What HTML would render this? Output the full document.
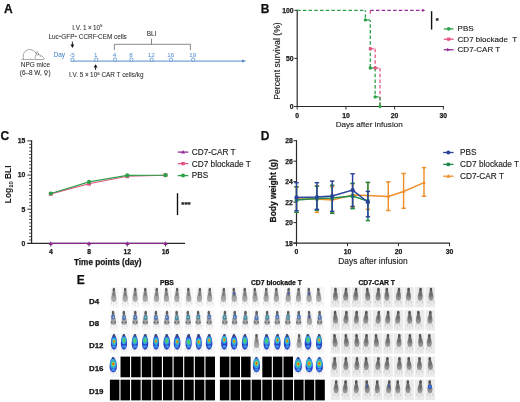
<!DOCTYPE html>
<html lang="en"><head><meta charset="utf-8"><title>Figure</title>
<style>
html,body{margin:0;padding:0;background:#fff;}
svg{display:block;font-family:"Liberation Sans", sans-serif;filter:blur(0.4px);}
</style></head><body>
<svg width="520" height="402" viewBox="0 0 520 402">
<defs>
<filter id="bl" x="-2%" y="-2%" width="104%" height="104%"><feGaussianBlur stdDeviation="0.45"/></filter>
<linearGradient id="mg" x1="0" y1="0" x2="0" y2="1"><stop offset="0" stop-color="#6c6c6c"/><stop offset="0.45" stop-color="#939393"/><stop offset="1" stop-color="#b2b2b2"/></linearGradient>
<linearGradient id="mg3" x1="0" y1="0" x2="0" y2="1"><stop offset="0" stop-color="#5e5e5e"/><stop offset="0.5" stop-color="#7c7c7c"/><stop offset="1" stop-color="#9c9c9c"/></linearGradient>
<g id="ms">
<path d="M4.4 19 C4.1 17 4.6 15.6 4.4 14" stroke="#dcdcdc" stroke-width="0.6" fill="none"/>
<path d="M2.8 13.6 L1.4 17.4 M6.0 13.6 L7.4 17.4" stroke="#d6d6d6" stroke-width="0.8" fill="none"/>
<path d="M3.2 4.6 L1.9 6.2 M5.6 4.6 L6.9 6.2" stroke="#d0d0d0" stroke-width="0.6" fill="none"/>
<path d="M4.4 0.8 C5.6 0.8 5.8 2.6 5.6 4.2 C6.0 6.8 7.2 10.0 7.0 12.4 C6.8 14.5 5.5 15.0 4.4 15.0 C3.3 15.0 2.0 14.5 1.8 12.4 C1.6 10.0 2.8 6.8 3.2 4.2 C3.0 2.6 3.2 0.8 4.4 0.8 Z" fill="url(#mg)"/>
<ellipse cx="4.4" cy="2.7" rx="1.1" ry="1.7" fill="#5c5c5c"/>
<ellipse cx="4.5" cy="7.6" rx="1.2" ry="1.8" fill="#747474" opacity="0.8"/>
</g>
<g id="ms3">
<path d="M4.4 18.6 C4.1 17 4.6 15.6 4.4 13.6" stroke="#d2d2d2" stroke-width="0.6" fill="none"/>
<path d="M2.9 12.4 L1.5 16.6 M5.9 12.4 L7.3 16.6" stroke="#cacaca" stroke-width="0.9" fill="none"/>
<path d="M4.4 0.8 C5.6 0.8 5.8 2.6 5.6 4.0 C6.2 6.0 7.0 8.4 6.9 10.4 C6.8 12.8 5.6 13.8 4.4 13.8 C3.2 13.8 2.0 12.8 1.9 10.4 C1.8 8.4 2.6 6.0 3.2 4.0 C3.0 2.6 3.2 0.8 4.4 0.8 Z" fill="url(#mg3)"/>
<ellipse cx="4.4" cy="2.7" rx="1.15" ry="1.8" fill="#525252"/>
<ellipse cx="4.5" cy="7.6" rx="1.4" ry="2.2" fill="#6a6a6a" opacity="0.8"/>
</g>
</defs>
<rect width="520" height="402" fill="#fff"/>
<text x="4.10" y="12.60" font-size="12" font-weight="bold" text-anchor="start" fill="#111" stroke="#111" stroke-width="0.25" stroke-linejoin="round" >A</text>
<text x="260.80" y="12.60" font-size="12" font-weight="bold" text-anchor="start" fill="#111" stroke="#111" stroke-width="0.25" stroke-linejoin="round" >B</text>
<text x="0.60" y="140.40" font-size="12" font-weight="bold" text-anchor="start" fill="#111" stroke="#111" stroke-width="0.25" stroke-linejoin="round" >C</text>
<text x="260.80" y="140.20" font-size="12" font-weight="bold" text-anchor="start" fill="#111" stroke="#111" stroke-width="0.25" stroke-linejoin="round" >D</text>
<text x="76.80" y="284.40" font-size="12" font-weight="bold" text-anchor="start" fill="#111" stroke="#111" stroke-width="0.25" stroke-linejoin="round" >E</text>
<line x1="70.80" y1="61.10" x2="243.00" y2="61.10" stroke="#4f88cc" stroke-width="0.95" />
<path d="M242.0 59.6 L246.3 61.1 L242.0 62.6 Z" fill="#4f88cc"/>
<text x="53.40" y="56.70" font-size="6.6" font-weight="normal" text-anchor="start" fill="#4a86c8" stroke="#4a86c8" stroke-width="0.05" stroke-linejoin="round" >Day</text>
<text x="72.00" y="56.80" font-size="6.2" font-weight="normal" text-anchor="middle" fill="#5a90d0" stroke="#5a90d0" stroke-width="0.04" stroke-linejoin="round" >-5</text>
<circle cx="72.4" cy="59.6" r="1.65" fill="#fff" stroke="#4a86c8" stroke-width="0.75"/>
<text x="95.80" y="56.80" font-size="6.2" font-weight="normal" text-anchor="middle" fill="#5a90d0" stroke="#5a90d0" stroke-width="0.04" stroke-linejoin="round" >1</text>
<circle cx="96.2" cy="59.6" r="1.65" fill="#fff" stroke="#4a86c8" stroke-width="0.75"/>
<text x="114.60" y="56.80" font-size="6.2" font-weight="normal" text-anchor="middle" fill="#5a90d0" stroke="#5a90d0" stroke-width="0.04" stroke-linejoin="round" >4</text>
<circle cx="115.0" cy="59.6" r="1.65" fill="#fff" stroke="#4a86c8" stroke-width="0.75"/>
<text x="130.90" y="56.80" font-size="6.2" font-weight="normal" text-anchor="middle" fill="#5a90d0" stroke="#5a90d0" stroke-width="0.04" stroke-linejoin="round" >8</text>
<circle cx="131.3" cy="59.6" r="1.65" fill="#fff" stroke="#4a86c8" stroke-width="0.75"/>
<text x="151.30" y="56.80" font-size="6.2" font-weight="normal" text-anchor="middle" fill="#5a90d0" stroke="#5a90d0" stroke-width="0.04" stroke-linejoin="round" >12</text>
<circle cx="151.70000000000002" cy="59.6" r="1.65" fill="#fff" stroke="#4a86c8" stroke-width="0.75"/>
<text x="170.70" y="56.80" font-size="6.2" font-weight="normal" text-anchor="middle" fill="#5a90d0" stroke="#5a90d0" stroke-width="0.04" stroke-linejoin="round" >16</text>
<circle cx="171.1" cy="59.6" r="1.65" fill="#fff" stroke="#4a86c8" stroke-width="0.75"/>
<text x="192.70" y="56.80" font-size="6.2" font-weight="normal" text-anchor="middle" fill="#5a90d0" stroke="#5a90d0" stroke-width="0.04" stroke-linejoin="round" >19</text>
<circle cx="193.1" cy="59.6" r="1.65" fill="#fff" stroke="#4a86c8" stroke-width="0.75"/>
<text x="87.40" y="29.50" font-size="6.4" font-weight="normal" text-anchor="middle" fill="#2a2a2a" stroke="#2a2a2a" stroke-width="0.06" stroke-linejoin="round" >I.V. 1 × 10<tspan font-size="4.4" dy="-2.2">5</tspan></text>
<text x="87.60" y="38.70" font-size="6.4" font-weight="normal" text-anchor="middle" fill="#2a2a2a" stroke="#2a2a2a" stroke-width="0.06" stroke-linejoin="round" >Luc<tspan font-size="4.4" dy="-2.2">+</tspan><tspan dy="2.2">GFP</tspan><tspan font-size="4.4" dy="-2.2">+</tspan><tspan dy="2.2"> CCRF</tspan><tspan font-size="4.4" dy="-2.2">-</tspan><tspan dy="2.2">CEM cells</tspan></text>
<text x="69.00" y="77.30" font-size="6.4" font-weight="normal" text-anchor="start" fill="#2a2a2a" stroke="#2a2a2a" stroke-width="0.06" stroke-linejoin="round" >I.V. 5 × 10<tspan font-size="4.4" dy="-2.2">6</tspan><tspan dy="2.2"> CAR T cells/kg</tspan></text>
<text x="151.50" y="36.20" font-size="6.4" font-weight="normal" text-anchor="middle" fill="#2a2a2a" stroke="#2a2a2a" stroke-width="0.06" stroke-linejoin="round" >BLI</text>
<path d="M72.4 41.6 V45.4" stroke="#111" stroke-width="0.9" fill="none"/><path d="M70.5 44.6 L72.4 48.0 L74.3 44.6 Z" fill="#111"/>
<path d="M95.6 70.0 V66.8" stroke="#111" stroke-width="0.9" fill="none"/><path d="M93.7 67.6 L95.6 64.2 L97.5 67.6 Z" fill="#111"/>
<path d="M114.4 50.2 V44.3 H190.4 V50.2 M151.5 44.3 V38.6" stroke="#3a3a3a" stroke-width="0.6" fill="none"/>
<g transform="translate(21.6,49.0) scale(0.97)" fill="none" stroke="#4a4a4a" stroke-width="0.5" stroke-linecap="round" stroke-linejoin="round"><path d="M2.0 10.6 C0.6 6.2 2.6 0.6 8.2 0.6 C11.6 0.6 14.0 2.4 15.4 5.0"/><path d="M16.6 5.6 C18.6 5.8 20.6 6.8 22.2 8.4 C23.6 9.6 23.8 10.8 22.6 10.9 L14.6 10.9"/><path d="M15.6 6.4 C14.4 4.6 14.8 2.6 15.8 2.7 C16.9 2.8 17.6 4.4 17.4 6.0"/><path d="M0.2 10.7 C1.2 10.3 2.4 11.1 3.6 10.8 L13.0 10.8 M14.6 10.9 C13.6 9.6 13.6 8.0 14.4 6.6"/><circle cx="19.2" cy="7.9" r="0.4" fill="#333" stroke="none"/></g>
<text x="35.40" y="67.40" font-size="6.4" font-weight="normal" text-anchor="middle" fill="#2a2a2a" stroke="#2a2a2a" stroke-width="0.06" stroke-linejoin="round" >NPG mice</text>
<text x="35.20" y="75.20" font-size="6.4" font-weight="normal" text-anchor="middle" fill="#2a2a2a" stroke="#2a2a2a" stroke-width="0.06" stroke-linejoin="round" >(6–8 W, <tspan font-size="6.6" font-family="DejaVu Sans, sans-serif">♀</tspan>)</text>
<line x1="297.20" y1="9.70" x2="297.20" y2="107.10" stroke="#2a2a2a" stroke-width="1.2" />
<line x1="294.40" y1="106.50" x2="443.96" y2="106.50" stroke="#2a2a2a" stroke-width="1.2" />
<line x1="294.40" y1="106.50" x2="297.20" y2="106.50" stroke="#2a2a2a" stroke-width="1.0" />
<text x="293.60" y="108.90" font-size="6.8" font-weight="bold" text-anchor="end" fill="#1a1a1a" stroke="#1a1a1a" stroke-width="0.25" stroke-linejoin="round" >0</text>
<line x1="294.40" y1="58.40" x2="297.20" y2="58.40" stroke="#2a2a2a" stroke-width="1.0" />
<text x="293.60" y="60.80" font-size="6.8" font-weight="bold" text-anchor="end" fill="#1a1a1a" stroke="#1a1a1a" stroke-width="0.25" stroke-linejoin="round" >50</text>
<line x1="294.40" y1="10.30" x2="297.20" y2="10.30" stroke="#2a2a2a" stroke-width="1.0" />
<text x="293.60" y="12.70" font-size="6.8" font-weight="bold" text-anchor="end" fill="#1a1a1a" stroke="#1a1a1a" stroke-width="0.25" stroke-linejoin="round" >100</text>
<line x1="297.20" y1="106.50" x2="297.20" y2="109.50" stroke="#2a2a2a" stroke-width="1.0" />
<text x="297.20" y="117.60" font-size="6.8" font-weight="bold" text-anchor="middle" fill="#1a1a1a" stroke="#1a1a1a" stroke-width="0.25" stroke-linejoin="round" >0</text>
<line x1="345.92" y1="106.50" x2="345.92" y2="109.50" stroke="#2a2a2a" stroke-width="1.0" />
<text x="345.92" y="117.60" font-size="6.8" font-weight="bold" text-anchor="middle" fill="#1a1a1a" stroke="#1a1a1a" stroke-width="0.25" stroke-linejoin="round" >10</text>
<line x1="394.64" y1="106.50" x2="394.64" y2="109.50" stroke="#2a2a2a" stroke-width="1.0" />
<text x="394.64" y="117.60" font-size="6.8" font-weight="bold" text-anchor="middle" fill="#1a1a1a" stroke="#1a1a1a" stroke-width="0.25" stroke-linejoin="round" >20</text>
<line x1="443.36" y1="106.50" x2="443.36" y2="109.50" stroke="#2a2a2a" stroke-width="1.0" />
<text x="443.36" y="117.60" font-size="6.8" font-weight="bold" text-anchor="middle" fill="#1a1a1a" stroke="#1a1a1a" stroke-width="0.25" stroke-linejoin="round" >30</text>
<text x="369.20" y="126.60" font-size="8.1" font-weight="normal" text-anchor="middle" fill="#222" stroke="#222" stroke-width="0.14" stroke-linejoin="round" >Days after infusion</text>
<text transform="translate(279.80,61.00) rotate(-90)" font-size="8.2" font-weight="normal" text-anchor="middle" fill="#222" stroke="#222" stroke-width="0.14" textLength="77.5" lengthAdjust="spacingAndGlyphs">Percent survival (%)</text>
<path d="M370.28 10.30 V13.70" stroke="#e0527f" stroke-width="1.25" fill="none"/>
<path d="M370.28 48.78 L375.15 48.78" stroke="#e0527f" stroke-width="1.25" stroke-dasharray="3.5 2.2" stroke-dashoffset="0" fill="none"/>
<path d="M375.15 48.78 L375.15 68.02" stroke="#e0527f" stroke-width="1.25" stroke-dasharray="3.5 2.2" stroke-dashoffset="0" fill="none"/>
<path d="M375.15 68.02 L380.02 68.02" stroke="#e0527f" stroke-width="1.25" stroke-dasharray="3.5 2.2" stroke-dashoffset="0" fill="none"/>
<path d="M380.02 68.02 L380.02 106.50" stroke="#e0527f" stroke-width="1.25" stroke-dasharray="3.5 2.2" stroke-dashoffset="0" fill="none"/>
<path d="M370.28 10.30 L423.87 10.30" stroke="#942c98" stroke-width="1.25" stroke-dasharray="3.5 2.2" stroke-dashoffset="0" fill="none"/>
<path d="M297.20 10.30 L365.41 10.30" stroke="#2fa04a" stroke-width="1.3" stroke-dasharray="3.5 2.2" stroke-dashoffset="0" fill="none"/>
<path d="M365.41 10.30 L365.41 19.92" stroke="#2fa04a" stroke-width="1.3" stroke-dasharray="3.5 2.2" stroke-dashoffset="-3.9" fill="none"/>
<path d="M365.41 19.92 L370.28 19.92" stroke="#2fa04a" stroke-width="1.3" stroke-dasharray="3.5 2.2" stroke-dashoffset="-1.0" fill="none"/>
<path d="M370.28 19.92 L370.28 68.02" stroke="#2fa04a" stroke-width="1.3" stroke-dasharray="3.5 2.2" stroke-dashoffset="-4.3" fill="none"/>
<path d="M370.28 68.02 L375.15 68.02" stroke="#2fa04a" stroke-width="1.3" stroke-dasharray="3.5 2.2" stroke-dashoffset="0" fill="none"/>
<path d="M375.15 68.02 L375.15 96.88" stroke="#2fa04a" stroke-width="1.3" stroke-dasharray="3.5 2.2" stroke-dashoffset="0" fill="none"/>
<path d="M375.15 96.88 L380.02 96.88" stroke="#2fa04a" stroke-width="1.3" stroke-dasharray="3.5 2.2" stroke-dashoffset="0" fill="none"/>
<path d="M380.02 96.88 L380.02 106.50" stroke="#2fa04a" stroke-width="1.3" stroke-dasharray="3.5 2.2" stroke-dashoffset="0" fill="none"/>
<rect x="368.78" y="47.28" width="3" height="3" fill="#e0527f"/>
<rect x="373.65" y="66.52" width="3" height="3" fill="#e0527f"/>
<circle cx="365.41" cy="19.92" r="1.7" fill="#2fa04a"/>
<circle cx="370.28" cy="68.02" r="1.7" fill="#2fa04a"/>
<circle cx="375.15" cy="96.88" r="1.7" fill="#2fa04a"/>
<circle cx="380.02" cy="106.50" r="1.7" fill="#2fa04a"/>
<path d="M422.27 8.70 L425.27 10.30 L422.27 11.90 Z" fill="#942c98"/>
<line x1="431.60" y1="11.20" x2="431.60" y2="29.60" stroke="#111" stroke-width="1.4" />
<text x="437.20" y="22.60" font-size="7.5" font-weight="bold" text-anchor="middle" fill="#111" stroke="#111" stroke-width="0.25" stroke-linejoin="round" >*</text>
<line x1="443.80" y1="28.90" x2="453.60" y2="28.90" stroke="#2fa04a" stroke-width="1.3" />
<circle cx="448.70" cy="28.9" r="1.8" fill="#2fa04a"/>
<text x="457.60" y="31.00" font-size="8" font-weight="normal" text-anchor="start" fill="#222" stroke="#222" stroke-width="0.14" stroke-linejoin="round" >PBS</text>
<line x1="443.80" y1="39.20" x2="453.60" y2="39.20" stroke="#e0527f" stroke-width="1.3" />
<rect x="447.10" y="37.60" width="3.2" height="3.2" fill="#e0527f"/>
<text x="457.60" y="41.50" font-size="8" font-weight="normal" text-anchor="start" fill="#222" stroke="#222" stroke-width="0.14" stroke-linejoin="round" >CD7 blockade  T</text>
<line x1="443.80" y1="49.70" x2="453.60" y2="49.70" stroke="#942c98" stroke-width="1.3" />
<path d="M447.00 47.90 L450.50 49.70 L447.00 51.50 Z" fill="#942c98"/>
<text x="457.60" y="52.20" font-size="8" font-weight="normal" text-anchor="start" fill="#222" stroke="#222" stroke-width="0.14" stroke-linejoin="round" >CD7-CAR T</text>
<line x1="31.60" y1="140.30" x2="31.60" y2="244.00" stroke="#2a2a2a" stroke-width="1.2" />
<line x1="27.40" y1="243.40" x2="185.00" y2="243.40" stroke="#2a2a2a" stroke-width="1.2" />
<line x1="27.40" y1="243.40" x2="31.60" y2="243.40" stroke="#2a2a2a" stroke-width="1.0" />
<text x="25.20" y="245.80" font-size="6.8" font-weight="bold" text-anchor="end" fill="#1a1a1a" stroke="#1a1a1a" stroke-width="0.25" stroke-linejoin="round" >0</text>
<line x1="29.20" y1="239.98" x2="31.60" y2="239.98" stroke="#2a2a2a" stroke-width="0.9" />
<line x1="29.20" y1="236.57" x2="31.60" y2="236.57" stroke="#2a2a2a" stroke-width="0.9" />
<line x1="29.20" y1="233.15" x2="31.60" y2="233.15" stroke="#2a2a2a" stroke-width="0.9" />
<line x1="29.20" y1="229.73" x2="31.60" y2="229.73" stroke="#2a2a2a" stroke-width="0.9" />
<line x1="29.20" y1="226.32" x2="31.60" y2="226.32" stroke="#2a2a2a" stroke-width="0.9" />
<line x1="29.20" y1="222.90" x2="31.60" y2="222.90" stroke="#2a2a2a" stroke-width="0.9" />
<line x1="29.20" y1="219.48" x2="31.60" y2="219.48" stroke="#2a2a2a" stroke-width="0.9" />
<line x1="29.20" y1="216.07" x2="31.60" y2="216.07" stroke="#2a2a2a" stroke-width="0.9" />
<line x1="29.20" y1="212.65" x2="31.60" y2="212.65" stroke="#2a2a2a" stroke-width="0.9" />
<line x1="27.40" y1="209.23" x2="31.60" y2="209.23" stroke="#2a2a2a" stroke-width="1.0" />
<text x="25.20" y="211.63" font-size="6.8" font-weight="bold" text-anchor="end" fill="#1a1a1a" stroke="#1a1a1a" stroke-width="0.25" stroke-linejoin="round" >5</text>
<line x1="29.20" y1="205.82" x2="31.60" y2="205.82" stroke="#2a2a2a" stroke-width="0.9" />
<line x1="29.20" y1="202.40" x2="31.60" y2="202.40" stroke="#2a2a2a" stroke-width="0.9" />
<line x1="29.20" y1="198.98" x2="31.60" y2="198.98" stroke="#2a2a2a" stroke-width="0.9" />
<line x1="29.20" y1="195.57" x2="31.60" y2="195.57" stroke="#2a2a2a" stroke-width="0.9" />
<line x1="29.20" y1="192.15" x2="31.60" y2="192.15" stroke="#2a2a2a" stroke-width="0.9" />
<line x1="29.20" y1="188.73" x2="31.60" y2="188.73" stroke="#2a2a2a" stroke-width="0.9" />
<line x1="29.20" y1="185.32" x2="31.60" y2="185.32" stroke="#2a2a2a" stroke-width="0.9" />
<line x1="29.20" y1="181.90" x2="31.60" y2="181.90" stroke="#2a2a2a" stroke-width="0.9" />
<line x1="29.20" y1="178.48" x2="31.60" y2="178.48" stroke="#2a2a2a" stroke-width="0.9" />
<line x1="27.40" y1="175.07" x2="31.60" y2="175.07" stroke="#2a2a2a" stroke-width="1.0" />
<text x="25.20" y="177.47" font-size="6.8" font-weight="bold" text-anchor="end" fill="#1a1a1a" stroke="#1a1a1a" stroke-width="0.25" stroke-linejoin="round" >10</text>
<line x1="29.20" y1="171.65" x2="31.60" y2="171.65" stroke="#2a2a2a" stroke-width="0.9" />
<line x1="29.20" y1="168.23" x2="31.60" y2="168.23" stroke="#2a2a2a" stroke-width="0.9" />
<line x1="29.20" y1="164.82" x2="31.60" y2="164.82" stroke="#2a2a2a" stroke-width="0.9" />
<line x1="29.20" y1="161.40" x2="31.60" y2="161.40" stroke="#2a2a2a" stroke-width="0.9" />
<line x1="29.20" y1="157.98" x2="31.60" y2="157.98" stroke="#2a2a2a" stroke-width="0.9" />
<line x1="29.20" y1="154.57" x2="31.60" y2="154.57" stroke="#2a2a2a" stroke-width="0.9" />
<line x1="29.20" y1="151.15" x2="31.60" y2="151.15" stroke="#2a2a2a" stroke-width="0.9" />
<line x1="29.20" y1="147.73" x2="31.60" y2="147.73" stroke="#2a2a2a" stroke-width="0.9" />
<line x1="29.20" y1="144.32" x2="31.60" y2="144.32" stroke="#2a2a2a" stroke-width="0.9" />
<line x1="27.40" y1="140.90" x2="31.60" y2="140.90" stroke="#2a2a2a" stroke-width="1.0" />
<text x="25.20" y="143.30" font-size="6.8" font-weight="bold" text-anchor="end" fill="#1a1a1a" stroke="#1a1a1a" stroke-width="0.25" stroke-linejoin="round" >15</text>
<line x1="50.80" y1="243.40" x2="50.80" y2="246.40" stroke="#2a2a2a" stroke-width="1.0" />
<text x="50.80" y="254.00" font-size="6.8" font-weight="bold" text-anchor="middle" fill="#1a1a1a" stroke="#1a1a1a" stroke-width="0.25" stroke-linejoin="round" >4</text>
<line x1="89.04" y1="243.40" x2="89.04" y2="246.40" stroke="#2a2a2a" stroke-width="1.0" />
<text x="89.04" y="254.00" font-size="6.8" font-weight="bold" text-anchor="middle" fill="#1a1a1a" stroke="#1a1a1a" stroke-width="0.25" stroke-linejoin="round" >8</text>
<line x1="127.28" y1="243.40" x2="127.28" y2="246.40" stroke="#2a2a2a" stroke-width="1.0" />
<text x="127.28" y="254.00" font-size="6.8" font-weight="bold" text-anchor="middle" fill="#1a1a1a" stroke="#1a1a1a" stroke-width="0.25" stroke-linejoin="round" >12</text>
<line x1="165.52" y1="243.40" x2="165.52" y2="246.40" stroke="#2a2a2a" stroke-width="1.0" />
<text x="165.52" y="254.00" font-size="6.8" font-weight="bold" text-anchor="middle" fill="#1a1a1a" stroke="#1a1a1a" stroke-width="0.25" stroke-linejoin="round" >16</text>
<text x="107.80" y="265.20" font-size="8.2" font-weight="bold" text-anchor="middle" fill="#1a1a1a" stroke="#1a1a1a" stroke-width="0.25" stroke-linejoin="round" >Time points (day)</text>
<text transform="translate(11.4,184.3) rotate(-90)" font-size="8.4" font-weight="bold" text-anchor="middle" fill="#1a1a1a">Log<tspan font-size="5.9" dy="1.7">10</tspan><tspan dy="-1.7"> BLI</tspan></text>
<path d="M50.80 193.86 L89.04 183.75 L127.28 176.30 L165.52 175.20" stroke="#e0527f" stroke-width="1.1" fill="none"/>
<rect x="48.90" y="191.96" width="3.8" height="3.8" fill="#e0527f"/>
<rect x="87.14" y="181.84" width="3.8" height="3.8" fill="#e0527f"/>
<rect x="125.38" y="174.40" width="3.8" height="3.8" fill="#e0527f"/>
<rect x="163.62" y="173.30" width="3.8" height="3.8" fill="#e0527f"/>
<path d="M50.80 193.52 L89.04 181.90 L127.28 175.41 L165.52 175.20" stroke="#2fa04a" stroke-width="1.1" fill="none"/>
<circle cx="50.80" cy="193.52" r="2.1" fill="#2fa04a"/>
<circle cx="89.04" cy="181.90" r="2.1" fill="#2fa04a"/>
<circle cx="127.28" cy="175.41" r="2.1" fill="#2fa04a"/>
<circle cx="165.52" cy="175.20" r="2.1" fill="#2fa04a"/>
<line x1="50.80" y1="243.40" x2="165.52" y2="243.40" stroke="#942c98" stroke-width="1.25" opacity="0.9"/>
<path d="M48.70 245.00 L50.80 241.20 L52.90 245.00 Z" fill="#942c98"/>
<path d="M86.94 245.00 L89.04 241.20 L91.14 245.00 Z" fill="#942c98"/>
<path d="M125.18 245.00 L127.28 241.20 L129.38 245.00 Z" fill="#942c98"/>
<path d="M163.42 245.00 L165.52 241.20 L167.62 245.00 Z" fill="#942c98"/>
<line x1="177.50" y1="193.20" x2="177.50" y2="215.10" stroke="#111" stroke-width="1.4" />
<text x="186.00" y="207.20" font-size="8" font-weight="bold" text-anchor="middle" fill="#111" stroke="#111" stroke-width="0.25" stroke-linejoin="round" >***</text>
<line x1="177.80" y1="152.10" x2="188.30" y2="152.10" stroke="#942c98" stroke-width="1.3" />
<path d="M181.05 153.60 L183.05 150.00 L185.05 153.60 Z" fill="#942c98"/>
<text x="191.80" y="154.80" font-size="8.25" font-weight="normal" text-anchor="start" fill="#222" stroke="#222" stroke-width="0.14" stroke-linejoin="round" >CD7-CAR T</text>
<line x1="177.80" y1="163.60" x2="188.30" y2="163.60" stroke="#e0527f" stroke-width="1.3" />
<rect x="181.35" y="161.90" width="3.4" height="3.4" fill="#e0527f"/>
<text x="191.80" y="166.60" font-size="8.25" font-weight="normal" text-anchor="start" fill="#222" stroke="#222" stroke-width="0.14" stroke-linejoin="round" >CD7 blockade T</text>
<line x1="177.80" y1="175.60" x2="188.30" y2="175.60" stroke="#2fa04a" stroke-width="1.3" />
<circle cx="183.05" cy="175.6" r="2.0" fill="#2fa04a"/>
<text x="191.80" y="178.30" font-size="8.25" font-weight="normal" text-anchor="start" fill="#222" stroke="#222" stroke-width="0.14" stroke-linejoin="round" >PBS</text>
<line x1="296.50" y1="140.10" x2="296.50" y2="243.70" stroke="#2a2a2a" stroke-width="1.2" />
<line x1="293.40" y1="243.10" x2="450.10" y2="243.10" stroke="#2a2a2a" stroke-width="1.2" />
<line x1="293.40" y1="243.10" x2="296.50" y2="243.10" stroke="#2a2a2a" stroke-width="1.0" />
<text x="292.80" y="245.50" font-size="6.8" font-weight="bold" text-anchor="end" fill="#1a1a1a" stroke="#1a1a1a" stroke-width="0.25" stroke-linejoin="round" >18</text>
<line x1="293.40" y1="222.62" x2="296.50" y2="222.62" stroke="#2a2a2a" stroke-width="1.0" />
<text x="292.80" y="225.02" font-size="6.8" font-weight="bold" text-anchor="end" fill="#1a1a1a" stroke="#1a1a1a" stroke-width="0.25" stroke-linejoin="round" >20</text>
<line x1="293.40" y1="202.14" x2="296.50" y2="202.14" stroke="#2a2a2a" stroke-width="1.0" />
<text x="292.80" y="204.54" font-size="6.8" font-weight="bold" text-anchor="end" fill="#1a1a1a" stroke="#1a1a1a" stroke-width="0.25" stroke-linejoin="round" >22</text>
<line x1="293.40" y1="181.66" x2="296.50" y2="181.66" stroke="#2a2a2a" stroke-width="1.0" />
<text x="292.80" y="184.06" font-size="6.8" font-weight="bold" text-anchor="end" fill="#1a1a1a" stroke="#1a1a1a" stroke-width="0.25" stroke-linejoin="round" >24</text>
<line x1="293.40" y1="161.18" x2="296.50" y2="161.18" stroke="#2a2a2a" stroke-width="1.0" />
<text x="292.80" y="163.58" font-size="6.8" font-weight="bold" text-anchor="end" fill="#1a1a1a" stroke="#1a1a1a" stroke-width="0.25" stroke-linejoin="round" >26</text>
<line x1="293.40" y1="140.70" x2="296.50" y2="140.70" stroke="#2a2a2a" stroke-width="1.0" />
<text x="292.80" y="143.10" font-size="6.8" font-weight="bold" text-anchor="end" fill="#1a1a1a" stroke="#1a1a1a" stroke-width="0.25" stroke-linejoin="round" >28</text>
<line x1="296.50" y1="243.10" x2="296.50" y2="246.10" stroke="#2a2a2a" stroke-width="1.0" />
<text x="296.50" y="254.20" font-size="6.8" font-weight="bold" text-anchor="middle" fill="#1a1a1a" stroke="#1a1a1a" stroke-width="0.25" stroke-linejoin="round" >0</text>
<line x1="347.50" y1="243.10" x2="347.50" y2="246.10" stroke="#2a2a2a" stroke-width="1.0" />
<text x="347.50" y="254.20" font-size="6.8" font-weight="bold" text-anchor="middle" fill="#1a1a1a" stroke="#1a1a1a" stroke-width="0.25" stroke-linejoin="round" >10</text>
<line x1="398.50" y1="243.10" x2="398.50" y2="246.10" stroke="#2a2a2a" stroke-width="1.0" />
<text x="398.50" y="254.20" font-size="6.8" font-weight="bold" text-anchor="middle" fill="#1a1a1a" stroke="#1a1a1a" stroke-width="0.25" stroke-linejoin="round" >20</text>
<line x1="449.50" y1="243.10" x2="449.50" y2="246.10" stroke="#2a2a2a" stroke-width="1.0" />
<text x="449.50" y="254.20" font-size="6.8" font-weight="bold" text-anchor="middle" fill="#1a1a1a" stroke="#1a1a1a" stroke-width="0.25" stroke-linejoin="round" >30</text>
<text x="373.00" y="264.40" font-size="8.4" font-weight="normal" text-anchor="middle" fill="#222" stroke="#222" stroke-width="0.14" stroke-linejoin="round" >Days after infusion</text>
<text transform="translate(276.20,190.80) rotate(-90)" font-size="8.45" font-weight="bold" text-anchor="middle" fill="#1a1a1a" stroke="#1a1a1a" stroke-width="0.25" >Body weight (g)</text>
<path d="M296.50 199.07 L316.90 199.07 L332.20 200.09 L352.60 194.97 L367.90 195.48 L388.30 196.51 L403.60 191.49 L424.00 182.68" stroke="#ee8f2c" stroke-width="1.45" fill="none"/>
<line x1="296.50" y1="186.78" x2="296.50" y2="212.38" stroke="#ee8f2c" stroke-width="1.45" />
<line x1="294.30" y1="186.78" x2="298.70" y2="186.78" stroke="#ee8f2c" stroke-width="1.45" />
<line x1="294.30" y1="212.38" x2="298.70" y2="212.38" stroke="#ee8f2c" stroke-width="1.45" />
<path d="M294.70 200.37 L296.50 197.17 L298.30 200.37 Z" fill="#ee8f2c"/>
<line x1="316.90" y1="185.76" x2="316.90" y2="212.38" stroke="#ee8f2c" stroke-width="1.45" />
<line x1="314.70" y1="185.76" x2="319.10" y2="185.76" stroke="#ee8f2c" stroke-width="1.45" />
<line x1="314.70" y1="212.38" x2="319.10" y2="212.38" stroke="#ee8f2c" stroke-width="1.45" />
<path d="M315.10 200.37 L316.90 197.17 L318.70 200.37 Z" fill="#ee8f2c"/>
<line x1="332.20" y1="186.78" x2="332.20" y2="212.89" stroke="#ee8f2c" stroke-width="1.45" />
<line x1="330.00" y1="186.78" x2="334.40" y2="186.78" stroke="#ee8f2c" stroke-width="1.45" />
<line x1="330.00" y1="212.89" x2="334.40" y2="212.89" stroke="#ee8f2c" stroke-width="1.45" />
<path d="M330.40 201.39 L332.20 198.19 L334.00 201.39 Z" fill="#ee8f2c"/>
<line x1="352.60" y1="183.71" x2="352.60" y2="207.77" stroke="#ee8f2c" stroke-width="1.45" />
<line x1="350.40" y1="183.71" x2="354.80" y2="183.71" stroke="#ee8f2c" stroke-width="1.45" />
<line x1="350.40" y1="207.77" x2="354.80" y2="207.77" stroke="#ee8f2c" stroke-width="1.45" />
<path d="M350.80 196.27 L352.60 193.07 L354.40 196.27 Z" fill="#ee8f2c"/>
<line x1="367.90" y1="182.68" x2="367.90" y2="209.31" stroke="#ee8f2c" stroke-width="1.45" />
<line x1="365.70" y1="182.68" x2="370.10" y2="182.68" stroke="#ee8f2c" stroke-width="1.45" />
<line x1="365.70" y1="209.31" x2="370.10" y2="209.31" stroke="#ee8f2c" stroke-width="1.45" />
<path d="M366.10 196.78 L367.90 193.58 L369.70 196.78 Z" fill="#ee8f2c"/>
<line x1="388.30" y1="181.86" x2="388.30" y2="210.54" stroke="#ee8f2c" stroke-width="1.45" />
<line x1="386.10" y1="181.86" x2="390.50" y2="181.86" stroke="#ee8f2c" stroke-width="1.45" />
<line x1="386.10" y1="210.54" x2="390.50" y2="210.54" stroke="#ee8f2c" stroke-width="1.45" />
<path d="M386.50 197.81 L388.30 194.61 L390.10 197.81 Z" fill="#ee8f2c"/>
<line x1="403.60" y1="173.47" x2="403.60" y2="208.28" stroke="#ee8f2c" stroke-width="1.45" />
<line x1="401.40" y1="173.47" x2="405.80" y2="173.47" stroke="#ee8f2c" stroke-width="1.45" />
<line x1="401.40" y1="208.28" x2="405.80" y2="208.28" stroke="#ee8f2c" stroke-width="1.45" />
<path d="M401.80 192.79 L403.60 189.59 L405.40 192.79 Z" fill="#ee8f2c"/>
<line x1="424.00" y1="167.63" x2="424.00" y2="196.20" stroke="#ee8f2c" stroke-width="1.45" />
<line x1="421.80" y1="167.63" x2="426.20" y2="167.63" stroke="#ee8f2c" stroke-width="1.45" />
<line x1="421.80" y1="196.20" x2="426.20" y2="196.20" stroke="#ee8f2c" stroke-width="1.45" />
<path d="M422.20 183.98 L424.00 180.78 L425.80 183.98 Z" fill="#ee8f2c"/>
<path d="M296.50 200.09 L316.90 198.56 L332.20 198.04 L352.60 196.00 L367.90 201.12" stroke="#1f8a4c" stroke-width="1.45" fill="none"/>
<line x1="296.50" y1="186.78" x2="296.50" y2="212.38" stroke="#1f8a4c" stroke-width="1.45" />
<line x1="294.30" y1="186.78" x2="298.70" y2="186.78" stroke="#1f8a4c" stroke-width="1.45" />
<line x1="294.30" y1="212.38" x2="298.70" y2="212.38" stroke="#1f8a4c" stroke-width="1.45" />
<rect x="294.70" y="198.29" width="3.6" height="3.6" fill="#1f8a4c"/>
<line x1="316.90" y1="186.27" x2="316.90" y2="210.33" stroke="#1f8a4c" stroke-width="1.45" />
<line x1="314.70" y1="186.27" x2="319.10" y2="186.27" stroke="#1f8a4c" stroke-width="1.45" />
<line x1="314.70" y1="210.33" x2="319.10" y2="210.33" stroke="#1f8a4c" stroke-width="1.45" />
<rect x="315.10" y="196.76" width="3.6" height="3.6" fill="#1f8a4c"/>
<line x1="332.20" y1="185.24" x2="332.20" y2="213.40" stroke="#1f8a4c" stroke-width="1.45" />
<line x1="330.00" y1="185.24" x2="334.40" y2="185.24" stroke="#1f8a4c" stroke-width="1.45" />
<line x1="330.00" y1="213.40" x2="334.40" y2="213.40" stroke="#1f8a4c" stroke-width="1.45" />
<rect x="330.40" y="196.24" width="3.6" height="3.6" fill="#1f8a4c"/>
<line x1="352.60" y1="183.30" x2="352.60" y2="208.69" stroke="#1f8a4c" stroke-width="1.45" />
<line x1="350.40" y1="183.30" x2="354.80" y2="183.30" stroke="#1f8a4c" stroke-width="1.45" />
<line x1="350.40" y1="208.69" x2="354.80" y2="208.69" stroke="#1f8a4c" stroke-width="1.45" />
<rect x="350.80" y="194.20" width="3.6" height="3.6" fill="#1f8a4c"/>
<line x1="367.90" y1="182.27" x2="367.90" y2="220.57" stroke="#1f8a4c" stroke-width="1.45" />
<line x1="365.70" y1="182.27" x2="370.10" y2="182.27" stroke="#1f8a4c" stroke-width="1.45" />
<line x1="365.70" y1="220.57" x2="370.10" y2="220.57" stroke="#1f8a4c" stroke-width="1.45" />
<rect x="366.10" y="199.32" width="3.6" height="3.6" fill="#1f8a4c"/>
<path d="M296.50 197.43 L316.90 197.02 L332.20 196.00 L352.60 190.16 L367.90 202.24" stroke="#2b439b" stroke-width="1.45" fill="none"/>
<line x1="296.50" y1="182.68" x2="296.50" y2="210.74" stroke="#2b439b" stroke-width="1.45" />
<line x1="294.30" y1="182.68" x2="298.70" y2="182.68" stroke="#2b439b" stroke-width="1.45" />
<line x1="294.30" y1="210.74" x2="298.70" y2="210.74" stroke="#2b439b" stroke-width="1.45" />
<circle cx="296.50" cy="197.43" r="2.1" fill="#2b439b"/>
<line x1="316.90" y1="182.68" x2="316.90" y2="209.31" stroke="#2b439b" stroke-width="1.45" />
<line x1="314.70" y1="182.68" x2="319.10" y2="182.68" stroke="#2b439b" stroke-width="1.45" />
<line x1="314.70" y1="209.31" x2="319.10" y2="209.31" stroke="#2b439b" stroke-width="1.45" />
<circle cx="316.90" cy="197.02" r="2.1" fill="#2b439b"/>
<line x1="332.20" y1="181.05" x2="332.20" y2="211.36" stroke="#2b439b" stroke-width="1.45" />
<line x1="330.00" y1="181.05" x2="334.40" y2="181.05" stroke="#2b439b" stroke-width="1.45" />
<line x1="330.00" y1="211.36" x2="334.40" y2="211.36" stroke="#2b439b" stroke-width="1.45" />
<circle cx="332.20" cy="196.00" r="2.1" fill="#2b439b"/>
<line x1="352.60" y1="173.78" x2="352.60" y2="206.44" stroke="#2b439b" stroke-width="1.45" />
<line x1="350.40" y1="173.78" x2="354.80" y2="173.78" stroke="#2b439b" stroke-width="1.45" />
<line x1="350.40" y1="206.44" x2="354.80" y2="206.44" stroke="#2b439b" stroke-width="1.45" />
<circle cx="352.60" cy="190.16" r="2.1" fill="#2b439b"/>
<line x1="367.90" y1="191.39" x2="367.90" y2="216.78" stroke="#2b439b" stroke-width="1.45" />
<line x1="365.70" y1="191.39" x2="370.10" y2="191.39" stroke="#2b439b" stroke-width="1.45" />
<line x1="365.70" y1="216.78" x2="370.10" y2="216.78" stroke="#2b439b" stroke-width="1.45" />
<circle cx="367.90" cy="202.24" r="2.1" fill="#2b439b"/>
<line x1="443.10" y1="152.50" x2="453.50" y2="152.50" stroke="#2b439b" stroke-width="1.3" />
<circle cx="448.30" cy="152.5" r="2.0" fill="#2b439b"/>
<text x="460.10" y="155.20" font-size="8.25" font-weight="normal" text-anchor="start" fill="#222" stroke="#222" stroke-width="0.14" stroke-linejoin="round" >PBS</text>
<line x1="443.10" y1="164.40" x2="453.50" y2="164.40" stroke="#1f8a4c" stroke-width="1.3" />
<rect x="446.60" y="162.70" width="3.4" height="3.4" fill="#1f8a4c"/>
<text x="460.10" y="167.00" font-size="8.25" font-weight="normal" text-anchor="start" fill="#222" stroke="#222" stroke-width="0.14" stroke-linejoin="round" >CD7 blockade T</text>
<line x1="443.10" y1="176.20" x2="453.50" y2="176.20" stroke="#ee8f2c" stroke-width="1.3" />
<path d="M446.30 177.70 L448.30 174.10 L450.30 177.70 Z" fill="#ee8f2c"/>
<text x="460.10" y="178.80" font-size="8.25" font-weight="normal" text-anchor="start" fill="#222" stroke="#222" stroke-width="0.14" stroke-linejoin="round" >CD7-CAR T</text>
<text x="89.00" y="303.60" font-size="7.9" font-weight="bold" text-anchor="start" fill="#111" stroke="#111" stroke-width="0.25" stroke-linejoin="round" >D4</text>
<text x="89.00" y="326.10" font-size="7.9" font-weight="bold" text-anchor="start" fill="#111" stroke="#111" stroke-width="0.25" stroke-linejoin="round" >D8</text>
<text x="89.00" y="348.10" font-size="7.9" font-weight="bold" text-anchor="start" fill="#111" stroke="#111" stroke-width="0.25" stroke-linejoin="round" >D12</text>
<text x="89.00" y="371.10" font-size="7.9" font-weight="bold" text-anchor="start" fill="#111" stroke="#111" stroke-width="0.25" stroke-linejoin="round" >D16</text>
<text x="89.00" y="393.70" font-size="7.9" font-weight="bold" text-anchor="start" fill="#111" stroke="#111" stroke-width="0.25" stroke-linejoin="round" >D19</text>
<text x="166.90" y="285.00" font-size="6.8" font-weight="bold" text-anchor="middle" fill="#111" stroke="#111" stroke-width="0.25" stroke-linejoin="round" >PBS</text>
<text x="276.40" y="284.80" font-size="6.8" font-weight="bold" text-anchor="middle" fill="#111" stroke="#111" stroke-width="0.25" stroke-linejoin="round" >CD7 blockade T</text>
<text x="376.70" y="284.80" font-size="6.8" font-weight="bold" text-anchor="middle" fill="#111" stroke="#111" stroke-width="0.25" stroke-linejoin="round" >CD7-CAR T</text>
<g filter="url(#bl)">
<g transform="translate(110.10,286.90)">
<rect width="8.8" height="20.6" fill="#f7f7f7"/>
<use href="#ms" x="-0.68" transform="rotate(0.4 3.72 8)"/>
</g>
<g transform="translate(120.72,286.90)">
<rect width="8.8" height="20.6" fill="#f7f7f7"/>
<use href="#ms" x="0.08" transform="rotate(-0.2 4.48 8)"/>
</g>
<g transform="translate(131.34,286.90)">
<rect width="8.8" height="20.6" fill="#f7f7f7"/>
<use href="#ms" x="-0.59" transform="rotate(0.5 3.81 8)"/>
</g>
<g transform="translate(141.96,286.90)">
<rect width="8.8" height="20.6" fill="#f7f7f7"/>
<use href="#ms" x="-1.10" transform="rotate(0.1 3.30 8)"/>
</g>
<g transform="translate(152.58,286.90)">
<rect width="8.8" height="20.6" fill="#f7f7f7"/>
<use href="#ms" x="-0.39" transform="rotate(1.8 4.01 8)"/>
</g>
<g transform="translate(163.20,286.90)">
<rect width="8.8" height="20.6" fill="#f7f7f7"/>
<use href="#ms" x="-1.25" transform="rotate(-1.2 3.15 8)"/>
</g>
<g transform="translate(173.82,286.90)">
<rect width="8.8" height="20.6" fill="#f7f7f7"/>
<use href="#ms" x="-1.25" transform="rotate(1.9 3.15 8)"/>
</g>
<g transform="translate(184.44,286.90)">
<rect width="8.8" height="20.6" fill="#f7f7f7"/>
<use href="#ms" x="-0.29" transform="rotate(-2.7 4.11 8)"/>
</g>
<g transform="translate(195.06,286.90)">
<rect width="8.8" height="20.6" fill="#f7f7f7"/>
<use href="#ms" x="0.17" transform="rotate(2.8 4.57 8)"/>
</g>
<g transform="translate(205.68,286.90)">
<rect width="8.8" height="20.6" fill="#f7f7f7"/>
<use href="#ms" x="-0.35" transform="rotate(0.7 4.05 8)"/>
</g>
<g transform="translate(110.10,310.00)">
<rect width="8.8" height="20.6" fill="#f7f7f7"/>
<use href="#ms" x="-1.15" transform="rotate(-2.9 3.25 8)"/>
<ellipse cx="2.90" cy="6.83" rx="2.0" ry="2.5" fill="#3f66c4" opacity="0.72"/>
<ellipse cx="3.25" cy="7.2" rx="0.75" ry="0.95" fill="#8fd0e8" opacity="0.9"/>
<ellipse cx="1.55" cy="12.6" rx="1.0" ry="1.0" fill="#5a6070" opacity="0.9"/><ellipse cx="4.95" cy="12.6" rx="1.0" ry="1.0" fill="#5a6070" opacity="0.9"/>
</g>
<g transform="translate(120.72,310.00)">
<rect width="8.8" height="20.6" fill="#f7f7f7"/>
<use href="#ms" x="-1.01" transform="rotate(-2.8 3.39 8)"/>
<ellipse cx="3.34" cy="7.61" rx="2.0" ry="2.5" fill="#3f66c4" opacity="0.72"/>
<ellipse cx="3.39" cy="7.2" rx="0.75" ry="0.95" fill="#8fd0e8" opacity="0.9"/>
<ellipse cx="1.69" cy="12.6" rx="1.0" ry="1.0" fill="#5a6070" opacity="0.9"/><ellipse cx="5.09" cy="12.6" rx="1.0" ry="1.0" fill="#5a6070" opacity="0.9"/>
</g>
<g transform="translate(131.34,310.00)">
<rect width="8.8" height="20.6" fill="#f7f7f7"/>
<use href="#ms" x="-0.57" transform="rotate(0.8 3.83 8)"/>
<ellipse cx="3.96" cy="7.15" rx="2.0" ry="2.5" fill="#3f66c4" opacity="0.72"/>
<ellipse cx="3.83" cy="7.2" rx="0.75" ry="0.95" fill="#8fd0e8" opacity="0.9"/>
<ellipse cx="2.13" cy="12.6" rx="1.0" ry="1.0" fill="#5a6070" opacity="0.9"/><ellipse cx="5.53" cy="12.6" rx="1.0" ry="1.0" fill="#5a6070" opacity="0.9"/>
</g>
<g transform="translate(141.96,310.00)">
<rect width="8.8" height="20.6" fill="#f7f7f7"/>
<use href="#ms" x="-0.95" transform="rotate(3.0 3.45 8)"/>
<ellipse cx="3.72" cy="7.45" rx="2.0" ry="2.5" fill="#2f86a4" opacity="0.72"/>
<ellipse cx="3.45" cy="7.2" rx="0.75" ry="0.95" fill="#8fd0e8" opacity="0.9"/>
<ellipse cx="1.75" cy="12.6" rx="1.0" ry="1.0" fill="#5a6070" opacity="0.9"/><ellipse cx="5.15" cy="12.6" rx="1.0" ry="1.0" fill="#5a6070" opacity="0.9"/>
</g>
<g transform="translate(152.58,310.00)">
<rect width="8.8" height="20.6" fill="#f7f7f7"/>
<use href="#ms" x="-0.90" transform="rotate(-1.6 3.50 8)"/>
<ellipse cx="3.16" cy="7.52" rx="2.0" ry="2.5" fill="#3f66c4" opacity="0.72"/>
<ellipse cx="3.50" cy="7.2" rx="0.75" ry="0.95" fill="#8fd0e8" opacity="0.9"/>
<ellipse cx="1.80" cy="12.6" rx="1.0" ry="1.0" fill="#5a6070" opacity="0.9"/><ellipse cx="5.20" cy="12.6" rx="1.0" ry="1.0" fill="#5a6070" opacity="0.9"/>
</g>
<g transform="translate(163.20,310.00)">
<rect width="8.8" height="20.6" fill="#f7f7f7"/>
<use href="#ms" x="-0.76" transform="rotate(2.1 3.64 8)"/>
<ellipse cx="4.01" cy="7.62" rx="2.0" ry="2.5" fill="#3f66c4" opacity="0.72"/>
<ellipse cx="3.64" cy="7.2" rx="0.75" ry="0.95" fill="#8fd0e8" opacity="0.9"/>
<ellipse cx="1.94" cy="12.6" rx="1.0" ry="1.0" fill="#5a6070" opacity="0.9"/><ellipse cx="5.34" cy="12.6" rx="1.0" ry="1.0" fill="#5a6070" opacity="0.9"/>
</g>
<g transform="translate(173.82,310.00)">
<rect width="8.8" height="20.6" fill="#f7f7f7"/>
<use href="#ms" x="-1.40" transform="rotate(-1.7 3.00 8)"/>
<ellipse cx="2.98" cy="7.78" rx="2.0" ry="2.5" fill="#2f86a4" opacity="0.72"/>
<ellipse cx="3.00" cy="7.2" rx="0.75" ry="0.95" fill="#8fd0e8" opacity="0.9"/>
<ellipse cx="1.30" cy="12.6" rx="1.0" ry="1.0" fill="#5a6070" opacity="0.9"/><ellipse cx="4.70" cy="12.6" rx="1.0" ry="1.0" fill="#5a6070" opacity="0.9"/>
</g>
<g transform="translate(184.44,310.00)">
<rect width="8.8" height="20.6" fill="#f7f7f7"/>
<use href="#ms" x="-0.76" transform="rotate(-2.6 3.64 8)"/>
<ellipse cx="3.86" cy="6.92" rx="2.0" ry="2.5" fill="#2f86a4" opacity="0.72"/>
<ellipse cx="3.64" cy="7.2" rx="0.75" ry="0.95" fill="#8fd0e8" opacity="0.9"/>
<ellipse cx="1.94" cy="12.6" rx="1.0" ry="1.0" fill="#5a6070" opacity="0.9"/><ellipse cx="5.34" cy="12.6" rx="1.0" ry="1.0" fill="#5a6070" opacity="0.9"/>
</g>
<g transform="translate(195.06,310.00)">
<rect width="8.8" height="20.6" fill="#f7f7f7"/>
<use href="#ms" x="-1.26" transform="rotate(-1.0 3.14 8)"/>
<ellipse cx="3.35" cy="6.74" rx="2.0" ry="2.5" fill="#2f86a4" opacity="0.72"/>
<ellipse cx="3.14" cy="7.2" rx="0.75" ry="0.95" fill="#8fd0e8" opacity="0.9"/>
<ellipse cx="1.44" cy="12.6" rx="1.0" ry="1.0" fill="#5a6070" opacity="0.9"/><ellipse cx="4.84" cy="12.6" rx="1.0" ry="1.0" fill="#5a6070" opacity="0.9"/>
</g>
<g transform="translate(205.68,310.00)">
<rect width="8.8" height="20.6" fill="#f7f7f7"/>
<use href="#ms" x="-1.01" transform="rotate(-2.4 3.39 8)"/>
<ellipse cx="3.63" cy="6.81" rx="2.0" ry="2.5" fill="#3f66c4" opacity="0.72"/>
<ellipse cx="3.39" cy="7.2" rx="0.75" ry="0.95" fill="#8fd0e8" opacity="0.9"/>
<ellipse cx="1.69" cy="12.6" rx="1.0" ry="1.0" fill="#5a6070" opacity="0.9"/><ellipse cx="5.09" cy="12.6" rx="1.0" ry="1.0" fill="#5a6070" opacity="0.9"/>
</g>
<g transform="translate(110.10,333.10)">
<rect width="8.8" height="20.6" fill="#f7f7f7"/>
<use href="#ms" x="-0.51" transform="rotate(-0.3 3.89 8)"/>
<path d="M3.89 1.6 C5.79 2.4000000000000004 6.97 6 6.97 10.5 C6.97 14.4 5.29 16.6 3.89 16.6 C2.49 16.6 0.82 14.4 0.82 10.5 C0.82 6 1.99 2.4000000000000004 3.89 1.6 Z" fill="#2a42c8"/>
<ellipse cx="3.89" cy="2.6" rx="1.2" ry="1.5" fill="#3a4880"/>
<ellipse cx="3.89" cy="8.36" rx="2.50" ry="3.90" fill="#35a6e2"/>
<ellipse cx="3.89" cy="8.36" rx="1.60" ry="2.20" fill="#4ccf6a"/>
<ellipse cx="3.89" cy="8.36" rx="1.05" ry="1.40" fill="#f0d030"/><ellipse cx="3.89" cy="8.36" rx="0.65" ry="0.85" fill="#e03020"/>
<ellipse cx="4.04" cy="13.4" rx="2.0" ry="1.5" fill="#3a8ee0"/>
</g>
<g transform="translate(120.72,333.10)">
<rect width="8.8" height="20.6" fill="#f7f7f7"/>
<use href="#ms" x="-1.21" transform="rotate(-0.5 3.19 8)"/>
<path d="M3.19 1.6 C5.09 2.4000000000000004 6.27 6 6.27 10.5 C6.27 14.4 4.59 16.6 3.19 16.6 C1.79 16.6 0.10 14.4 0.10 10.5 C0.10 6 1.29 2.4000000000000004 3.19 1.6 Z" fill="#2a42c8"/>
<ellipse cx="3.19" cy="2.6" rx="1.2" ry="1.5" fill="#3a4880"/>
<ellipse cx="3.19" cy="7.25" rx="2.50" ry="3.90" fill="#35a6e2"/>
<ellipse cx="3.19" cy="7.25" rx="1.60" ry="2.20" fill="#4ccf6a"/>
<ellipse cx="3.49" cy="13.4" rx="2.0" ry="1.5" fill="#3a8ee0"/>
</g>
<g transform="translate(131.34,333.10)">
<rect width="8.8" height="20.6" fill="#f7f7f7"/>
<use href="#ms" x="-0.91" transform="rotate(2.3 3.49 8)"/>
<path d="M3.49 1.6 C5.39 2.4000000000000004 6.57 6 6.57 10.5 C6.57 14.4 4.89 16.6 3.49 16.6 C2.09 16.6 0.40 14.4 0.40 10.5 C0.40 6 1.59 2.4000000000000004 3.49 1.6 Z" fill="#2a42c8"/>
<ellipse cx="3.49" cy="2.6" rx="1.2" ry="1.5" fill="#3a4880"/>
<ellipse cx="3.49" cy="7.55" rx="2.50" ry="3.90" fill="#35a6e2"/>
<ellipse cx="3.49" cy="7.55" rx="1.60" ry="2.20" fill="#4ccf6a"/>
<ellipse cx="3.63" cy="13.4" rx="2.0" ry="1.5" fill="#3a8ee0"/>
</g>
<g transform="translate(141.96,333.10)">
<rect width="8.8" height="20.6" fill="#f7f7f7"/>
<use href="#ms" x="-1.24" transform="rotate(2.9 3.16 8)"/>
<path d="M3.16 1.6 C5.06 2.4000000000000004 6.25 6 6.25 10.5 C6.25 14.4 4.56 16.6 3.16 16.6 C1.76 16.6 0.08 14.4 0.08 10.5 C0.08 6 1.26 2.4000000000000004 3.16 1.6 Z" fill="#2a42c8"/>
<ellipse cx="3.16" cy="2.6" rx="1.2" ry="1.5" fill="#3a4880"/>
<ellipse cx="3.16" cy="7.22" rx="2.50" ry="3.90" fill="#35a6e2"/>
<ellipse cx="3.16" cy="7.22" rx="1.60" ry="2.20" fill="#4ccf6a"/>
<ellipse cx="2.99" cy="13.4" rx="2.0" ry="1.5" fill="#3a8ee0"/>
</g>
<g transform="translate(152.58,333.10)">
<rect width="8.8" height="20.6" fill="#f7f7f7"/>
<use href="#ms" x="-0.93" transform="rotate(-2.6 3.47 8)"/>
<path d="M3.47 1.6 C5.37 2.4000000000000004 6.51 6 6.51 10.5 C6.51 14.4 4.87 16.6 3.47 16.6 C2.07 16.6 0.44 14.4 0.44 10.5 C0.44 6 1.57 2.4000000000000004 3.47 1.6 Z" fill="#2a42c8"/>
<ellipse cx="3.47" cy="2.6" rx="1.2" ry="1.5" fill="#3a4880"/>
<ellipse cx="3.47" cy="8.00" rx="2.50" ry="3.90" fill="#35a6e2"/>
<ellipse cx="3.47" cy="8.00" rx="1.60" ry="2.20" fill="#4ccf6a"/>
<ellipse cx="3.47" cy="8.00" rx="1.05" ry="1.40" fill="#f0d030"/><ellipse cx="3.47" cy="8.00" rx="0.65" ry="0.85" fill="#e03020"/>
<ellipse cx="3.58" cy="13.4" rx="2.0" ry="1.5" fill="#3a8ee0"/>
</g>
<g transform="translate(163.20,333.10)">
<rect width="8.8" height="20.6" fill="#f7f7f7"/>
<use href="#ms" x="-0.81" transform="rotate(-0.3 3.59 8)"/>
<path d="M3.59 1.6 C5.49 2.4000000000000004 6.98 6 6.98 10.5 C6.98 14.4 4.99 16.6 3.59 16.6 C2.19 16.6 0.21 14.4 0.21 10.5 C0.21 6 1.69 2.4000000000000004 3.59 1.6 Z" fill="#2a42c8"/>
<ellipse cx="3.59" cy="2.6" rx="1.2" ry="1.5" fill="#3a4880"/>
<ellipse cx="3.59" cy="7.76" rx="2.50" ry="3.90" fill="#35a6e2"/>
<ellipse cx="3.59" cy="7.76" rx="1.60" ry="2.20" fill="#4ccf6a"/>
<ellipse cx="3.96" cy="13.4" rx="2.0" ry="1.5" fill="#3a8ee0"/>
</g>
<g transform="translate(173.82,333.10)">
<rect width="8.8" height="20.6" fill="#f7f7f7"/>
<use href="#ms" x="-1.11" transform="rotate(-2.1 3.29 8)"/>
<path d="M3.29 1.6 C5.19 2.4000000000000004 6.66 6 6.66 10.5 C6.66 14.4 4.69 16.6 3.29 16.6 C1.89 16.6 -0.07 14.4 -0.07 10.5 C-0.07 6 1.39 2.4000000000000004 3.29 1.6 Z" fill="#2a42c8"/>
<ellipse cx="3.29" cy="2.6" rx="1.2" ry="1.5" fill="#3a4880"/>
<ellipse cx="3.29" cy="8.56" rx="2.50" ry="3.90" fill="#35a6e2"/>
<ellipse cx="3.29" cy="8.56" rx="1.60" ry="2.20" fill="#4ccf6a"/>
<ellipse cx="3.29" cy="8.56" rx="1.05" ry="1.40" fill="#f0d030"/><ellipse cx="3.29" cy="8.56" rx="0.65" ry="0.85" fill="#e03020"/>
<ellipse cx="2.98" cy="13.4" rx="2.0" ry="1.5" fill="#3a8ee0"/>
</g>
<g transform="translate(184.44,333.10)">
<rect width="8.8" height="20.6" fill="#f7f7f7"/>
<use href="#ms" x="-0.22" transform="rotate(2.6 4.18 8)"/>
<path d="M4.18 1.6 C6.08 2.4000000000000004 7.26 6 7.26 10.5 C7.26 14.4 5.58 16.6 4.18 16.6 C2.78 16.6 1.10 14.4 1.10 10.5 C1.10 6 2.28 2.4000000000000004 4.18 1.6 Z" fill="#2a42c8"/>
<ellipse cx="4.18" cy="2.6" rx="1.2" ry="1.5" fill="#3a4880"/>
<ellipse cx="4.18" cy="8.88" rx="2.50" ry="3.90" fill="#35a6e2"/>
<ellipse cx="4.18" cy="8.88" rx="1.60" ry="2.20" fill="#4ccf6a"/>
<ellipse cx="4.29" cy="13.4" rx="2.0" ry="1.5" fill="#3a8ee0"/>
</g>
<g transform="translate(195.06,333.10)">
<rect width="8.8" height="20.6" fill="#f7f7f7"/>
<use href="#ms" x="-0.73" transform="rotate(-2.4 3.67 8)"/>
<path d="M3.67 1.6 C5.57 2.4000000000000004 6.69 6 6.69 10.5 C6.69 14.4 5.07 16.6 3.67 16.6 C2.27 16.6 0.66 14.4 0.66 10.5 C0.66 6 1.77 2.4000000000000004 3.67 1.6 Z" fill="#2a42c8"/>
<ellipse cx="3.67" cy="2.6" rx="1.2" ry="1.5" fill="#3a4880"/>
<ellipse cx="3.67" cy="8.91" rx="2.50" ry="3.90" fill="#35a6e2"/>
<ellipse cx="3.67" cy="8.91" rx="1.60" ry="2.20" fill="#4ccf6a"/>
<ellipse cx="3.67" cy="8.91" rx="1.05" ry="1.40" fill="#f0d030"/><ellipse cx="3.67" cy="8.91" rx="0.65" ry="0.85" fill="#e03020"/>
<ellipse cx="3.88" cy="13.4" rx="2.0" ry="1.5" fill="#3a8ee0"/>
</g>
<g transform="translate(205.68,333.10)">
<rect width="8.8" height="20.6" fill="#f7f7f7"/>
<use href="#ms" x="-0.99" transform="rotate(1.9 3.41 8)"/>
<path d="M3.41 1.6 C5.31 2.4000000000000004 6.65 6 6.65 10.5 C6.65 14.4 4.81 16.6 3.41 16.6 C2.01 16.6 0.17 14.4 0.17 10.5 C0.17 6 1.51 2.4000000000000004 3.41 1.6 Z" fill="#2a42c8"/>
<ellipse cx="3.41" cy="2.6" rx="1.2" ry="1.5" fill="#3a4880"/>
<ellipse cx="3.41" cy="7.30" rx="2.50" ry="3.90" fill="#35a6e2"/>
<ellipse cx="3.41" cy="7.30" rx="1.60" ry="2.20" fill="#4ccf6a"/>
<ellipse cx="3.41" cy="7.30" rx="1.05" ry="1.40" fill="#f0d030"/><ellipse cx="3.41" cy="7.30" rx="0.65" ry="0.85" fill="#e03020"/>
<ellipse cx="3.63" cy="13.4" rx="2.0" ry="1.5" fill="#3a8ee0"/>
</g>
<g transform="translate(110.10,356.30)">
<rect width="8.8" height="20.6" fill="#f7f7f7"/>
<use href="#ms" x="-1.29" transform="rotate(-1.6 3.11 8)"/>
<path d="M3.11 0.8 C5.01 1.6 6.78 6 6.78 10.5 C6.78 14.4 4.51 16.0 3.11 16.0 C1.71 16.0 -0.56 14.4 -0.56 10.5 C-0.56 6 1.21 1.6 3.11 0.8 Z" fill="#2a42c8"/>
<ellipse cx="3.11" cy="2.6" rx="1.2" ry="1.5" fill="#3a4880"/>
<ellipse cx="3.11" cy="7.68" rx="3.12" ry="4.88" fill="#35a6e2"/>
<ellipse cx="3.11" cy="7.68" rx="2.00" ry="2.75" fill="#4ccf6a"/>
<ellipse cx="3.11" cy="7.68" rx="1.31" ry="1.75" fill="#f0d030"/><ellipse cx="3.11" cy="7.68" rx="0.81" ry="1.06" fill="#e03020"/>
<ellipse cx="3.22" cy="13.4" rx="2.0" ry="1.5" fill="#3a8ee0"/>
</g>
<rect x="120.52" y="356.60" width="9.5" height="20.70" fill="#040404"/>
<rect x="131.14" y="356.60" width="9.5" height="20.70" fill="#040404"/>
<rect x="141.76" y="356.60" width="9.5" height="20.70" fill="#040404"/>
<rect x="152.38" y="356.60" width="9.5" height="20.70" fill="#040404"/>
<rect x="163.00" y="356.60" width="9.5" height="20.70" fill="#040404"/>
<rect x="173.62" y="356.60" width="9.5" height="20.70" fill="#040404"/>
<rect x="184.24" y="356.60" width="9.5" height="20.70" fill="#040404"/>
<rect x="194.86" y="356.60" width="9.5" height="20.70" fill="#040404"/>
<rect x="205.48" y="356.60" width="9.5" height="20.70" fill="#040404"/>
<rect x="109.90" y="379.70" width="9.5" height="20.70" fill="#040404"/>
<rect x="120.52" y="379.70" width="9.5" height="20.70" fill="#040404"/>
<rect x="131.14" y="379.70" width="9.5" height="20.70" fill="#040404"/>
<rect x="141.76" y="379.70" width="9.5" height="20.70" fill="#040404"/>
<rect x="152.38" y="379.70" width="9.5" height="20.70" fill="#040404"/>
<rect x="163.00" y="379.70" width="9.5" height="20.70" fill="#040404"/>
<rect x="173.62" y="379.70" width="9.5" height="20.70" fill="#040404"/>
<rect x="184.24" y="379.70" width="9.5" height="20.70" fill="#040404"/>
<rect x="194.86" y="379.70" width="9.5" height="20.70" fill="#040404"/>
<rect x="205.48" y="379.70" width="9.5" height="20.70" fill="#040404"/>
<g transform="translate(220.10,286.90)">
<rect width="8.8" height="20.6" fill="#f7f7f7"/>
<use href="#ms" x="-0.87" transform="rotate(2.5 3.53 8)"/>
</g>
<g transform="translate(230.70,286.90)">
<rect width="8.8" height="20.6" fill="#f7f7f7"/>
<use href="#ms" x="-1.01" transform="rotate(-2.9 3.39 8)"/>
<ellipse cx="3.39" cy="6.4" rx="1.1" ry="1.5" fill="#3b55c0" opacity="0.75"/>
</g>
<g transform="translate(241.30,286.90)">
<rect width="8.8" height="20.6" fill="#f7f7f7"/>
<use href="#ms" x="-0.89" transform="rotate(-0.3 3.51 8)"/>
</g>
<g transform="translate(251.90,286.90)">
<rect width="8.8" height="20.6" fill="#f7f7f7"/>
<use href="#ms" x="-1.29" transform="rotate(-1.9 3.11 8)"/>
</g>
<g transform="translate(262.50,286.90)">
<rect width="8.8" height="20.6" fill="#f7f7f7"/>
<use href="#ms" x="-0.70" transform="rotate(0.4 3.70 8)"/>
</g>
<g transform="translate(273.10,286.90)">
<rect width="8.8" height="20.6" fill="#f7f7f7"/>
<use href="#ms" x="-1.15" transform="rotate(-0.8 3.25 8)"/>
</g>
<g transform="translate(283.70,286.90)">
<rect width="8.8" height="20.6" fill="#f7f7f7"/>
<use href="#ms" x="0.29" transform="rotate(2.9 4.69 8)"/>
<ellipse cx="4.69" cy="6.4" rx="1.1" ry="1.5" fill="#3b55c0" opacity="0.75"/>
</g>
<g transform="translate(294.30,286.90)">
<rect width="8.8" height="20.6" fill="#f7f7f7"/>
<use href="#ms" x="-0.15" transform="rotate(1.1 4.25 8)"/>
</g>
<g transform="translate(304.90,286.90)">
<rect width="8.8" height="20.6" fill="#f7f7f7"/>
<use href="#ms" x="-0.29" transform="rotate(-2.2 4.11 8)"/>
<ellipse cx="4.11" cy="6.4" rx="1.1" ry="1.5" fill="#3b55c0" opacity="0.75"/>
</g>
<g transform="translate(315.50,286.90)">
<rect width="8.8" height="20.6" fill="#f7f7f7"/>
<use href="#ms" x="-1.33" transform="rotate(-2.9 3.07 8)"/>
</g>
<g transform="translate(220.10,310.00)">
<rect width="8.8" height="20.6" fill="#f7f7f7"/>
<use href="#ms" x="0.33" transform="rotate(1.2 4.73 8)"/>
<ellipse cx="4.35" cy="7.36" rx="2.0" ry="2.5" fill="#2f86a4" opacity="0.72"/>
<ellipse cx="4.73" cy="7.2" rx="0.75" ry="0.95" fill="#8fd0e8" opacity="0.9"/>
<ellipse cx="3.03" cy="12.6" rx="1.0" ry="1.0" fill="#5a6070" opacity="0.9"/><ellipse cx="6.43" cy="12.6" rx="1.0" ry="1.0" fill="#5a6070" opacity="0.9"/>
</g>
<g transform="translate(230.70,310.00)">
<rect width="8.8" height="20.6" fill="#f7f7f7"/>
<use href="#ms" x="-0.48" transform="rotate(1.4 3.92 8)"/>
<ellipse cx="4.32" cy="6.69" rx="2.0" ry="2.5" fill="#3f66c4" opacity="0.72"/>
<ellipse cx="3.92" cy="7.2" rx="0.75" ry="0.95" fill="#8fd0e8" opacity="0.9"/>
<ellipse cx="2.22" cy="12.6" rx="1.0" ry="1.0" fill="#5a6070" opacity="0.9"/><ellipse cx="5.62" cy="12.6" rx="1.0" ry="1.0" fill="#5a6070" opacity="0.9"/>
</g>
<g transform="translate(241.30,310.00)">
<rect width="8.8" height="20.6" fill="#f7f7f7"/>
<use href="#ms" x="-0.36" transform="rotate(1.4 4.04 8)"/>
<ellipse cx="4.23" cy="7.44" rx="2.0" ry="2.5" fill="#2f86a4" opacity="0.72"/>
<ellipse cx="4.04" cy="7.2" rx="0.75" ry="0.95" fill="#8fd0e8" opacity="0.9"/>
<ellipse cx="2.34" cy="12.6" rx="1.0" ry="1.0" fill="#5a6070" opacity="0.9"/><ellipse cx="5.74" cy="12.6" rx="1.0" ry="1.0" fill="#5a6070" opacity="0.9"/>
</g>
<g transform="translate(251.90,310.00)">
<rect width="8.8" height="20.6" fill="#f7f7f7"/>
<use href="#ms" x="0.11" transform="rotate(2.5 4.51 8)"/>
<ellipse cx="4.66" cy="7.68" rx="2.0" ry="2.5" fill="#3f66c4" opacity="0.72"/>
<ellipse cx="4.51" cy="7.2" rx="0.75" ry="0.95" fill="#8fd0e8" opacity="0.9"/>
<ellipse cx="2.81" cy="12.6" rx="1.0" ry="1.0" fill="#5a6070" opacity="0.9"/><ellipse cx="6.21" cy="12.6" rx="1.0" ry="1.0" fill="#5a6070" opacity="0.9"/>
</g>
<g transform="translate(262.50,310.00)">
<rect width="8.8" height="20.6" fill="#f7f7f7"/>
<use href="#ms" x="0.26" transform="rotate(-0.5 4.66 8)"/>
<ellipse cx="4.95" cy="7.29" rx="2.0" ry="2.5" fill="#2f86a4" opacity="0.72"/>
<ellipse cx="4.66" cy="7.2" rx="0.75" ry="0.95" fill="#8fd0e8" opacity="0.9"/>
<ellipse cx="2.96" cy="12.6" rx="1.0" ry="1.0" fill="#5a6070" opacity="0.9"/><ellipse cx="6.36" cy="12.6" rx="1.0" ry="1.0" fill="#5a6070" opacity="0.9"/>
</g>
<g transform="translate(273.10,310.00)">
<rect width="8.8" height="20.6" fill="#f7f7f7"/>
<use href="#ms" x="-0.21" transform="rotate(-0.7 4.19 8)"/>
<ellipse cx="4.27" cy="6.70" rx="2.0" ry="2.5" fill="#3f66c4" opacity="0.72"/>
<ellipse cx="4.19" cy="7.2" rx="0.75" ry="0.95" fill="#8fd0e8" opacity="0.9"/>
<ellipse cx="2.49" cy="12.6" rx="1.0" ry="1.0" fill="#5a6070" opacity="0.9"/><ellipse cx="5.89" cy="12.6" rx="1.0" ry="1.0" fill="#5a6070" opacity="0.9"/>
</g>
<g transform="translate(283.70,310.00)">
<rect width="8.8" height="20.6" fill="#f7f7f7"/>
<use href="#ms" x="-0.19" transform="rotate(3.0 4.21 8)"/>
<ellipse cx="4.40" cy="7.07" rx="2.0" ry="2.5" fill="#2f86a4" opacity="0.72"/>
<ellipse cx="4.21" cy="7.2" rx="0.75" ry="0.95" fill="#8fd0e8" opacity="0.9"/>
<ellipse cx="2.51" cy="12.6" rx="1.0" ry="1.0" fill="#5a6070" opacity="0.9"/><ellipse cx="5.91" cy="12.6" rx="1.0" ry="1.0" fill="#5a6070" opacity="0.9"/>
</g>
<g transform="translate(294.30,310.00)">
<rect width="8.8" height="20.6" fill="#f7f7f7"/>
<use href="#ms" x="-0.00" transform="rotate(0.5 4.40 8)"/>
<ellipse cx="4.67" cy="6.70" rx="2.0" ry="2.5" fill="#3f66c4" opacity="0.72"/>
<ellipse cx="4.40" cy="7.2" rx="0.75" ry="0.95" fill="#8fd0e8" opacity="0.9"/>
<ellipse cx="2.70" cy="12.6" rx="1.0" ry="1.0" fill="#5a6070" opacity="0.9"/><ellipse cx="6.10" cy="12.6" rx="1.0" ry="1.0" fill="#5a6070" opacity="0.9"/>
</g>
<g transform="translate(304.90,310.00)">
<rect width="8.8" height="20.6" fill="#f7f7f7"/>
<use href="#ms" x="0.03" transform="rotate(-2.8 4.43 8)"/>
<ellipse cx="4.43" cy="6.4" rx="1.1" ry="1.5" fill="#3b55c0" opacity="0.75"/>
</g>
<g transform="translate(315.50,310.00)">
<rect width="8.8" height="20.6" fill="#f7f7f7"/>
<use href="#ms" x="-0.26" transform="rotate(-0.1 4.14 8)"/>
<ellipse cx="4.30" cy="7.20" rx="2.0" ry="2.5" fill="#3f66c4" opacity="0.72"/>
<ellipse cx="4.14" cy="7.2" rx="0.75" ry="0.95" fill="#8fd0e8" opacity="0.9"/>
<ellipse cx="2.44" cy="12.6" rx="1.0" ry="1.0" fill="#5a6070" opacity="0.9"/><ellipse cx="5.84" cy="12.6" rx="1.0" ry="1.0" fill="#5a6070" opacity="0.9"/>
</g>
<g transform="translate(220.10,333.10)">
<rect width="8.8" height="20.6" fill="#f7f7f7"/>
<use href="#ms" x="-0.23" transform="rotate(2.5 4.17 8)"/>
<path d="M4.17 1.6 C6.07 2.4000000000000004 7.27 6 7.27 10.5 C7.27 14.4 5.57 16.6 4.17 16.6 C2.77 16.6 1.07 14.4 1.07 10.5 C1.07 6 2.27 2.4000000000000004 4.17 1.6 Z" fill="#2a42c8"/>
<ellipse cx="4.17" cy="2.6" rx="1.2" ry="1.5" fill="#3a4880"/>
<ellipse cx="4.17" cy="6.63" rx="2.50" ry="3.90" fill="#35a6e2"/>
<ellipse cx="4.17" cy="6.63" rx="1.60" ry="2.20" fill="#4ccf6a"/>
<ellipse cx="4.17" cy="6.63" rx="1.05" ry="1.40" fill="#f0d030"/><ellipse cx="4.17" cy="6.63" rx="0.65" ry="0.85" fill="#e03020"/>
<ellipse cx="4.35" cy="13.4" rx="2.0" ry="1.5" fill="#3a8ee0"/>
</g>
<g transform="translate(230.70,333.10)">
<rect width="8.8" height="20.6" fill="#f7f7f7"/>
<use href="#ms" x="-1.02" transform="rotate(-2.0 3.38 8)"/>
<path d="M3.38 1.6 C5.28 2.4000000000000004 6.75 6 6.75 10.5 C6.75 14.4 4.78 16.6 3.38 16.6 C1.98 16.6 0.02 14.4 0.02 10.5 C0.02 6 1.48 2.4000000000000004 3.38 1.6 Z" fill="#2a42c8"/>
<ellipse cx="3.38" cy="2.6" rx="1.2" ry="1.5" fill="#3a4880"/>
<ellipse cx="3.38" cy="8.18" rx="2.50" ry="3.90" fill="#35a6e2"/>
<ellipse cx="3.38" cy="8.18" rx="1.60" ry="2.20" fill="#4ccf6a"/>
<ellipse cx="3.38" cy="8.18" rx="1.05" ry="1.40" fill="#f0d030"/><ellipse cx="3.38" cy="8.18" rx="0.65" ry="0.85" fill="#e03020"/>
<ellipse cx="3.78" cy="13.4" rx="2.0" ry="1.5" fill="#3a8ee0"/>
</g>
<g transform="translate(241.30,333.10)">
<rect width="8.8" height="20.6" fill="#f7f7f7"/>
<use href="#ms" x="-0.78" transform="rotate(1.0 3.62 8)"/>
<path d="M3.62 1.6 C5.52 2.4000000000000004 6.70 6 6.70 10.5 C6.70 14.4 5.02 16.6 3.62 16.6 C2.22 16.6 0.54 14.4 0.54 10.5 C0.54 6 1.72 2.4000000000000004 3.62 1.6 Z" fill="#2a42c8"/>
<ellipse cx="3.62" cy="2.6" rx="1.2" ry="1.5" fill="#3a4880"/>
<ellipse cx="3.62" cy="7.63" rx="2.50" ry="3.90" fill="#35a6e2"/>
<ellipse cx="3.62" cy="7.63" rx="1.60" ry="2.20" fill="#4ccf6a"/>
<ellipse cx="4.04" cy="13.4" rx="2.0" ry="1.5" fill="#3a8ee0"/>
</g>
<g transform="translate(251.90,333.10)">
<rect width="8.8" height="20.6" fill="#f7f7f7"/>
<use href="#ms" x="0.27" transform="rotate(-0.7 4.67 8)"/>
</g>
<g transform="translate(262.50,333.10)">
<rect width="8.8" height="20.6" fill="#f7f7f7"/>
<use href="#ms" x="-0.29" transform="rotate(-1.1 4.11 8)"/>
<path d="M4.11 1.6 C6.01 2.4000000000000004 7.16 6 7.16 10.5 C7.16 14.4 5.51 16.6 4.11 16.6 C2.71 16.6 1.05 14.4 1.05 10.5 C1.05 6 2.21 2.4000000000000004 4.11 1.6 Z" fill="#2a42c8"/>
<ellipse cx="4.11" cy="2.6" rx="1.2" ry="1.5" fill="#3a4880"/>
<ellipse cx="4.11" cy="7.79" rx="2.50" ry="3.90" fill="#35a6e2"/>
<ellipse cx="4.11" cy="7.79" rx="1.60" ry="2.20" fill="#4ccf6a"/>
<ellipse cx="4.46" cy="13.4" rx="2.0" ry="1.5" fill="#3a8ee0"/>
</g>
<g transform="translate(273.10,333.10)">
<rect width="8.8" height="20.6" fill="#f7f7f7"/>
<use href="#ms" x="-0.05" transform="rotate(2.7 4.35 8)"/>
<path d="M4.35 1.6 C6.25 2.4000000000000004 7.46 6 7.46 10.5 C7.46 14.4 5.75 16.6 4.35 16.6 C2.95 16.6 1.24 14.4 1.24 10.5 C1.24 6 2.45 2.4000000000000004 4.35 1.6 Z" fill="#2a42c8"/>
<ellipse cx="4.35" cy="2.6" rx="1.2" ry="1.5" fill="#3a4880"/>
<ellipse cx="4.35" cy="7.01" rx="2.50" ry="3.90" fill="#35a6e2"/>
<ellipse cx="4.35" cy="7.01" rx="1.60" ry="2.20" fill="#4ccf6a"/>
<ellipse cx="4.35" cy="7.01" rx="1.05" ry="1.40" fill="#f0d030"/><ellipse cx="4.35" cy="7.01" rx="0.65" ry="0.85" fill="#e03020"/>
<ellipse cx="4.13" cy="13.4" rx="2.0" ry="1.5" fill="#3a8ee0"/>
</g>
<g transform="translate(283.70,333.10)">
<rect width="8.8" height="20.6" fill="#f7f7f7"/>
<use href="#ms" x="-0.99" transform="rotate(-0.5 3.41 8)"/>
<path d="M3.41 1.6 C5.31 2.4000000000000004 6.66 6 6.66 10.5 C6.66 14.4 4.81 16.6 3.41 16.6 C2.01 16.6 0.16 14.4 0.16 10.5 C0.16 6 1.51 2.4000000000000004 3.41 1.6 Z" fill="#2a42c8"/>
<ellipse cx="3.41" cy="2.6" rx="1.2" ry="1.5" fill="#3a4880"/>
<ellipse cx="3.41" cy="7.79" rx="2.50" ry="3.90" fill="#35a6e2"/>
<ellipse cx="3.41" cy="7.79" rx="1.60" ry="2.20" fill="#4ccf6a"/>
<ellipse cx="3.41" cy="7.79" rx="1.05" ry="1.40" fill="#f0d030"/><ellipse cx="3.41" cy="7.79" rx="0.65" ry="0.85" fill="#e03020"/>
<ellipse cx="3.75" cy="13.4" rx="2.0" ry="1.5" fill="#3a8ee0"/>
</g>
<g transform="translate(294.30,333.10)">
<rect width="8.8" height="20.6" fill="#f7f7f7"/>
<use href="#ms" x="0.47" transform="rotate(-0.3 4.87 8)"/>
</g>
<g transform="translate(304.90,333.10)">
<rect width="8.8" height="20.6" fill="#f7f7f7"/>
<use href="#ms" x="-1.26" transform="rotate(-2.8 3.14 8)"/>
<path d="M3.14 1.6 C5.04 2.4000000000000004 6.49 6 6.49 10.5 C6.49 14.4 4.54 16.6 3.14 16.6 C1.74 16.6 -0.21 14.4 -0.21 10.5 C-0.21 6 1.24 2.4000000000000004 3.14 1.6 Z" fill="#2a42c8"/>
<ellipse cx="3.14" cy="2.6" rx="1.2" ry="1.5" fill="#3a4880"/>
<ellipse cx="3.14" cy="6.70" rx="2.50" ry="3.90" fill="#35a6e2"/>
<ellipse cx="3.14" cy="6.70" rx="1.60" ry="2.20" fill="#4ccf6a"/>
<ellipse cx="3.21" cy="13.4" rx="2.0" ry="1.5" fill="#3a8ee0"/>
</g>
<g transform="translate(315.50,333.10)">
<rect width="8.8" height="20.6" fill="#f7f7f7"/>
<use href="#ms" x="-0.81" transform="rotate(1.7 3.59 8)"/>
<path d="M3.59 1.6 C5.49 2.4000000000000004 6.59 6 6.59 10.5 C6.59 14.4 4.99 16.6 3.59 16.6 C2.19 16.6 0.58 14.4 0.58 10.5 C0.58 6 1.69 2.4000000000000004 3.59 1.6 Z" fill="#2a42c8"/>
<ellipse cx="3.59" cy="2.6" rx="1.2" ry="1.5" fill="#3a4880"/>
<ellipse cx="3.59" cy="6.93" rx="2.50" ry="3.90" fill="#35a6e2"/>
<ellipse cx="3.59" cy="6.93" rx="1.60" ry="2.20" fill="#4ccf6a"/>
<ellipse cx="3.59" cy="6.93" rx="1.05" ry="1.40" fill="#f0d030"/><ellipse cx="3.59" cy="6.93" rx="0.65" ry="0.85" fill="#e03020"/>
<ellipse cx="3.11" cy="13.4" rx="2.0" ry="1.5" fill="#3a8ee0"/>
</g>
<rect x="219.90" y="356.60" width="9.5" height="20.70" fill="#040404"/>
<rect x="230.50" y="356.60" width="9.5" height="20.70" fill="#040404"/>
<rect x="241.10" y="356.60" width="9.5" height="20.70" fill="#040404"/>
<g transform="translate(251.90,356.30)">
<rect width="8.8" height="20.6" fill="#f7f7f7"/>
<use href="#ms" x="0.18" transform="rotate(-1.6 4.58 8)"/>
<path d="M4.58 0.8 C6.48 1.6 8.12 6 8.12 10.5 C8.12 14.4 5.98 16.0 4.58 16.0 C3.18 16.0 1.03 14.4 1.03 10.5 C1.03 6 2.68 1.6 4.58 0.8 Z" fill="#2a42c8"/>
<ellipse cx="4.58" cy="2.6" rx="1.2" ry="1.5" fill="#3a4880"/>
<ellipse cx="4.58" cy="7.04" rx="3.12" ry="4.88" fill="#35a6e2"/>
<ellipse cx="4.58" cy="7.04" rx="2.00" ry="2.75" fill="#4ccf6a"/>
<ellipse cx="4.58" cy="7.04" rx="1.31" ry="1.75" fill="#f0d030"/><ellipse cx="4.58" cy="7.04" rx="0.81" ry="1.06" fill="#e03020"/>
<ellipse cx="4.71" cy="13.4" rx="2.0" ry="1.5" fill="#3a8ee0"/>
</g>
<rect x="262.30" y="356.60" width="9.5" height="20.70" fill="#040404"/>
<rect x="272.90" y="356.60" width="9.5" height="20.70" fill="#040404"/>
<rect x="283.50" y="356.60" width="9.5" height="20.70" fill="#040404"/>
<g transform="translate(294.30,356.30)">
<rect width="8.8" height="20.6" fill="#f7f7f7"/>
<use href="#ms" x="-0.55" transform="rotate(0.8 3.85 8)"/>
<path d="M3.85 0.8 C5.75 1.6 7.54 6 7.54 10.5 C7.54 14.4 5.25 16.0 3.85 16.0 C2.45 16.0 0.15 14.4 0.15 10.5 C0.15 6 1.95 1.6 3.85 0.8 Z" fill="#2a42c8"/>
<ellipse cx="3.85" cy="2.6" rx="1.2" ry="1.5" fill="#3a4880"/>
<ellipse cx="3.85" cy="7.65" rx="3.12" ry="4.88" fill="#35a6e2"/>
<ellipse cx="3.85" cy="7.65" rx="2.00" ry="2.75" fill="#4ccf6a"/>
<ellipse cx="3.85" cy="7.65" rx="1.31" ry="1.75" fill="#f0d030"/><ellipse cx="3.85" cy="7.65" rx="0.81" ry="1.06" fill="#e03020"/>
<ellipse cx="4.31" cy="13.4" rx="2.0" ry="1.5" fill="#3a8ee0"/>
</g>
<g transform="translate(304.90,356.30)">
<rect width="8.8" height="20.6" fill="#f7f7f7"/>
<use href="#ms" x="-0.10" transform="rotate(-1.8 4.30 8)"/>
<path d="M4.30 0.8 C6.20 1.6 7.94 6 7.94 10.5 C7.94 14.4 5.70 16.0 4.30 16.0 C2.90 16.0 0.66 14.4 0.66 10.5 C0.66 6 2.40 1.6 4.30 0.8 Z" fill="#2a42c8"/>
<ellipse cx="4.30" cy="2.6" rx="1.2" ry="1.5" fill="#3a4880"/>
<ellipse cx="4.30" cy="7.14" rx="3.12" ry="4.88" fill="#35a6e2"/>
<ellipse cx="4.30" cy="7.14" rx="2.00" ry="2.75" fill="#4ccf6a"/>
<ellipse cx="4.30" cy="7.14" rx="1.31" ry="1.75" fill="#f0d030"/><ellipse cx="4.30" cy="7.14" rx="0.81" ry="1.06" fill="#e03020"/>
<ellipse cx="3.81" cy="13.4" rx="2.0" ry="1.5" fill="#3a8ee0"/>
</g>
<g transform="translate(315.50,356.30)">
<rect width="8.8" height="20.6" fill="#f7f7f7"/>
<use href="#ms" x="-0.50" transform="rotate(1.3 3.90 8)"/>
<path d="M3.90 0.8 C5.80 1.6 7.45 6 7.45 10.5 C7.45 14.4 5.30 16.0 3.90 16.0 C2.50 16.0 0.34 14.4 0.34 10.5 C0.34 6 2.00 1.6 3.90 0.8 Z" fill="#2a42c8"/>
<ellipse cx="3.90" cy="2.6" rx="1.2" ry="1.5" fill="#3a4880"/>
<ellipse cx="3.90" cy="7.22" rx="3.12" ry="4.88" fill="#35a6e2"/>
<ellipse cx="3.90" cy="7.22" rx="2.00" ry="2.75" fill="#4ccf6a"/>
<ellipse cx="3.90" cy="7.22" rx="1.31" ry="1.75" fill="#f0d030"/><ellipse cx="3.90" cy="7.22" rx="0.81" ry="1.06" fill="#e03020"/>
<ellipse cx="3.74" cy="13.4" rx="2.0" ry="1.5" fill="#3a8ee0"/>
</g>
<rect x="219.90" y="379.70" width="9.5" height="20.70" fill="#040404"/>
<rect x="230.50" y="379.70" width="9.5" height="20.70" fill="#040404"/>
<rect x="241.10" y="379.70" width="9.5" height="20.70" fill="#040404"/>
<rect x="251.70" y="379.70" width="9.5" height="20.70" fill="#040404"/>
<rect x="262.30" y="379.70" width="9.5" height="20.70" fill="#040404"/>
<rect x="272.90" y="379.70" width="9.5" height="20.70" fill="#040404"/>
<rect x="283.50" y="379.70" width="9.5" height="20.70" fill="#040404"/>
<rect x="294.10" y="379.70" width="9.5" height="20.70" fill="#040404"/>
<rect x="304.70" y="379.70" width="9.5" height="20.70" fill="#040404"/>
<rect x="315.30" y="379.70" width="9.5" height="20.70" fill="#040404"/>
<g transform="translate(330.60,286.90)">
<rect width="9.4" height="20.6" fill="#ebebeb"/>
<use href="#ms3" x="0.47" transform="rotate(0.2 4.87 8)"/>
</g>
<g transform="translate(341.15,286.90)">
<rect width="9.4" height="20.6" fill="#ebebeb"/>
<use href="#ms3" x="0.27" transform="rotate(2.6 4.67 8)"/>
</g>
<g transform="translate(351.70,286.90)">
<rect width="9.4" height="20.6" fill="#ebebeb"/>
<use href="#ms3" x="-0.26" transform="rotate(2.9 4.14 8)"/>
</g>
<g transform="translate(362.25,286.90)">
<rect width="9.4" height="20.6" fill="#ebebeb"/>
<use href="#ms3" x="0.97" transform="rotate(-4.1 5.37 8)"/>
</g>
<g transform="translate(372.80,286.90)">
<rect width="9.4" height="20.6" fill="#ebebeb"/>
<use href="#ms3" x="1.04" transform="rotate(2.2 5.44 8)"/>
</g>
<g transform="translate(383.35,286.90)">
<rect width="9.4" height="20.6" fill="#ebebeb"/>
<use href="#ms3" x="-0.89" transform="rotate(-0.5 3.51 8)"/>
</g>
<g transform="translate(393.90,286.90)">
<rect width="9.4" height="20.6" fill="#ebebeb"/>
<use href="#ms3" x="0.30" transform="rotate(4.1 4.70 8)"/>
</g>
<g transform="translate(404.45,286.90)">
<rect width="9.4" height="20.6" fill="#ebebeb"/>
<use href="#ms3" x="-0.30" transform="rotate(0.7 4.10 8)"/>
</g>
<g transform="translate(415.00,286.90)">
<rect width="9.4" height="20.6" fill="#ebebeb"/>
<use href="#ms3" x="0.91" transform="rotate(3.0 5.31 8)"/>
</g>
<g transform="translate(425.55,286.90)">
<rect width="9.4" height="20.6" fill="#ebebeb"/>
<use href="#ms3" x="1.07" transform="rotate(-0.4 5.47 8)"/>
</g>
<g transform="translate(330.60,310.00)">
<rect width="9.4" height="20.6" fill="#ebebeb"/>
<use href="#ms3" x="0.36" transform="rotate(-3.0 4.76 8)"/>
</g>
<g transform="translate(341.15,310.00)">
<rect width="9.4" height="20.6" fill="#ebebeb"/>
<use href="#ms3" x="0.53" transform="rotate(3.2 4.93 8)"/>
</g>
<g transform="translate(351.70,310.00)">
<rect width="9.4" height="20.6" fill="#ebebeb"/>
<use href="#ms3" x="0.34" transform="rotate(2.2 4.74 8)"/>
</g>
<g transform="translate(362.25,310.00)">
<rect width="9.4" height="20.6" fill="#ebebeb"/>
<use href="#ms3" x="-0.69" transform="rotate(4.0 3.71 8)"/>
</g>
<g transform="translate(372.80,310.00)">
<rect width="9.4" height="20.6" fill="#ebebeb"/>
<use href="#ms3" x="1.15" transform="rotate(4.8 5.55 8)"/>
</g>
<g transform="translate(383.35,310.00)">
<rect width="9.4" height="20.6" fill="#ebebeb"/>
<use href="#ms3" x="0.09" transform="rotate(2.9 4.49 8)"/>
</g>
<g transform="translate(393.90,310.00)">
<rect width="9.4" height="20.6" fill="#ebebeb"/>
<use href="#ms3" x="-0.43" transform="rotate(4.1 3.97 8)"/>
</g>
<g transform="translate(404.45,310.00)">
<rect width="9.4" height="20.6" fill="#ebebeb"/>
<use href="#ms3" x="0.85" transform="rotate(-1.5 5.25 8)"/>
</g>
<g transform="translate(415.00,310.00)">
<rect width="9.4" height="20.6" fill="#ebebeb"/>
<use href="#ms3" x="-1.00" transform="rotate(-0.6 3.40 8)"/>
</g>
<g transform="translate(425.55,310.00)">
<rect width="9.4" height="20.6" fill="#ebebeb"/>
<use href="#ms3" x="0.12" transform="rotate(2.7 4.52 8)"/>
</g>
<g transform="translate(330.60,333.10)">
<rect width="9.4" height="20.6" fill="#ebebeb"/>
<use href="#ms3" x="-0.03" transform="rotate(-4.7 4.37 8)"/>
</g>
<g transform="translate(341.15,333.10)">
<rect width="9.4" height="20.6" fill="#ebebeb"/>
<use href="#ms3" x="0.74" transform="rotate(-4.4 5.14 8)"/>
</g>
<g transform="translate(351.70,333.10)">
<rect width="9.4" height="20.6" fill="#ebebeb"/>
<use href="#ms3" x="0.72" transform="rotate(-3.3 5.12 8)"/>
</g>
<g transform="translate(362.25,333.10)">
<rect width="9.4" height="20.6" fill="#ebebeb"/>
<use href="#ms3" x="-0.40" transform="rotate(2.9 4.00 8)"/>
</g>
<g transform="translate(372.80,333.10)">
<rect width="9.4" height="20.6" fill="#ebebeb"/>
<use href="#ms3" x="-0.86" transform="rotate(-3.5 3.54 8)"/>
</g>
<g transform="translate(383.35,333.10)">
<rect width="9.4" height="20.6" fill="#ebebeb"/>
<use href="#ms3" x="0.04" transform="rotate(2.2 4.44 8)"/>
</g>
<g transform="translate(393.90,333.10)">
<rect width="9.4" height="20.6" fill="#ebebeb"/>
<use href="#ms3" x="0.82" transform="rotate(1.9 5.22 8)"/>
</g>
<g transform="translate(404.45,333.10)">
<rect width="9.4" height="20.6" fill="#ebebeb"/>
<use href="#ms3" x="1.07" transform="rotate(-0.1 5.47 8)"/>
</g>
<g transform="translate(415.00,333.10)">
<rect width="9.4" height="20.6" fill="#ebebeb"/>
<use href="#ms3" x="1.08" transform="rotate(-4.1 5.48 8)"/>
</g>
<g transform="translate(425.55,333.10)">
<rect width="9.4" height="20.6" fill="#ebebeb"/>
<use href="#ms3" x="-0.67" transform="rotate(0.3 3.73 8)"/>
</g>
<g transform="translate(330.60,356.30)">
<rect width="9.4" height="20.6" fill="#ebebeb"/>
<use href="#ms3" x="-0.50" transform="rotate(2.3 3.90 8)"/>
</g>
<g transform="translate(341.15,356.30)">
<rect width="9.4" height="20.6" fill="#ebebeb"/>
<use href="#ms3" x="0.33" transform="rotate(0.2 4.73 8)"/>
</g>
<g transform="translate(351.70,356.30)">
<rect width="9.4" height="20.6" fill="#ebebeb"/>
<use href="#ms3" x="0.82" transform="rotate(0.6 5.22 8)"/>
</g>
<g transform="translate(362.25,356.30)">
<rect width="9.4" height="20.6" fill="#ebebeb"/>
<use href="#ms3" x="-0.45" transform="rotate(-1.2 3.95 8)"/>
</g>
<g transform="translate(372.80,356.30)">
<rect width="9.4" height="20.6" fill="#ebebeb"/>
<use href="#ms3" x="0.83" transform="rotate(4.0 5.23 8)"/>
</g>
<g transform="translate(383.35,356.30)">
<rect width="9.4" height="20.6" fill="#ebebeb"/>
<use href="#ms3" x="-0.70" transform="rotate(3.5 3.70 8)"/>
</g>
<g transform="translate(393.90,356.30)">
<rect width="9.4" height="20.6" fill="#ebebeb"/>
<use href="#ms3" x="1.12" transform="rotate(0.2 5.52 8)"/>
</g>
<g transform="translate(404.45,356.30)">
<rect width="9.4" height="20.6" fill="#ebebeb"/>
<use href="#ms3" x="0.18" transform="rotate(-3.0 4.58 8)"/>
</g>
<g transform="translate(415.00,356.30)">
<rect width="9.4" height="20.6" fill="#ebebeb"/>
<use href="#ms3" x="0.09" transform="rotate(0.0 4.49 8)"/>
</g>
<g transform="translate(425.55,356.30)">
<rect width="9.4" height="20.6" fill="#ebebeb"/>
<use href="#ms3" x="0.25" transform="rotate(-4.7 4.65 8)"/>
</g>
<g transform="translate(330.60,379.40)">
<rect width="9.4" height="20.6" fill="#ebebeb"/>
<use href="#ms3" x="1.13" transform="rotate(0.2 5.53 8)"/>
</g>
<g transform="translate(341.15,379.40)">
<rect width="9.4" height="20.6" fill="#ebebeb"/>
<use href="#ms3" x="-0.24" transform="rotate(3.0 4.16 8)"/>
</g>
<g transform="translate(351.70,379.40)">
<rect width="9.4" height="20.6" fill="#ebebeb"/>
<use href="#ms3" x="0.15" transform="rotate(-0.1 4.55 8)"/>
</g>
<g transform="translate(362.25,379.40)">
<rect width="9.4" height="20.6" fill="#ebebeb"/>
<use href="#ms3" x="0.46" transform="rotate(-4.3 4.86 8)"/>
<ellipse cx="4.86" cy="6.4" rx="1.1" ry="1.5" fill="#3b55c0" opacity="0.75"/>
</g>
<g transform="translate(372.80,379.40)">
<rect width="9.4" height="20.6" fill="#ebebeb"/>
<use href="#ms3" x="0.09" transform="rotate(-0.9 4.49 8)"/>
</g>
<g transform="translate(383.35,379.40)">
<rect width="9.4" height="20.6" fill="#ebebeb"/>
<use href="#ms3" x="1.10" transform="rotate(4.2 5.50 8)"/>
<ellipse cx="5.50" cy="6.4" rx="1.1" ry="1.5" fill="#3b55c0" opacity="0.75"/>
</g>
<g transform="translate(393.90,379.40)">
<rect width="9.4" height="20.6" fill="#ebebeb"/>
<use href="#ms3" x="-0.55" transform="rotate(-0.3 3.85 8)"/>
</g>
<g transform="translate(404.45,379.40)">
<rect width="9.4" height="20.6" fill="#ebebeb"/>
<use href="#ms3" x="-0.90" transform="rotate(-0.7 3.50 8)"/>
</g>
<g transform="translate(415.00,379.40)">
<rect width="9.4" height="20.6" fill="#ebebeb"/>
<use href="#ms3" x="0.76" transform="rotate(4.0 5.16 8)"/>
</g>
<g transform="translate(425.55,379.40)">
<rect width="9.4" height="20.6" fill="#ebebeb"/>
<use href="#ms3" x="-0.06" transform="rotate(-1.8 4.34 8)"/>
<ellipse cx="4.34" cy="7.4" rx="2.0" ry="2.1" fill="#2a4fd0"/><ellipse cx="4.34" cy="7.4" rx="0.9" ry="1.0" fill="#35a0e8"/>
</g>
</g>
</svg>
</body></html>
